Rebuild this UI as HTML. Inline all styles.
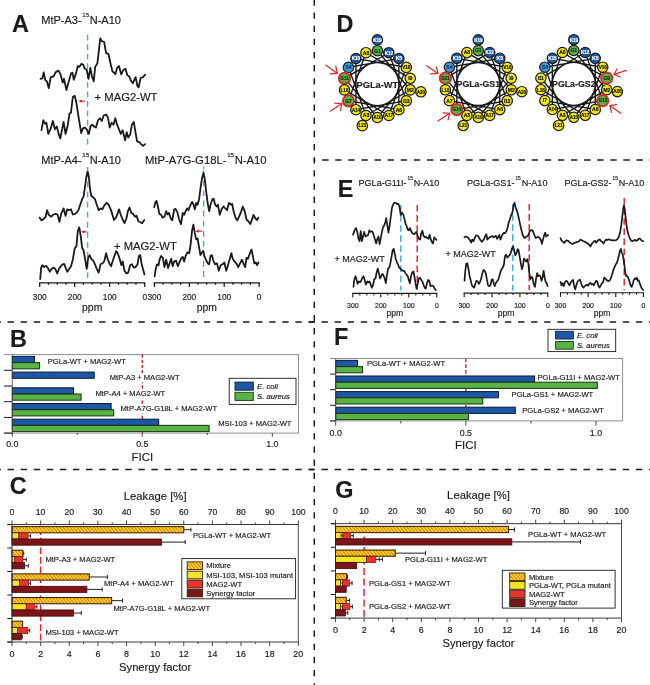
<!DOCTYPE html>
<html><head><meta charset="utf-8"><title>Figure</title>
<style>
html,body{margin:0;padding:0;background:#fff;}
svg{display:block;font-family:'Liberation Sans', Arial, sans-serif;}
</style></head>
<body>
<svg width="650" height="685" viewBox="0 0 650 685">
<rect width="650" height="685" fill="#fff"/>
<g stroke="#1a1a1a" stroke-width="1.5" fill="none">
<line x1="314.3" y1="-0.65" x2="314.3" y2="690" stroke-dasharray="6.3 6.85"/>
<line x1="-5.5" y1="321.9" x2="314.3" y2="321.9" stroke-dasharray="6.4 6.68"/>
<line x1="-5.5" y1="469.4" x2="314.3" y2="469.4" stroke-dasharray="6.4 6.68"/>
<line x1="308.9" y1="321.9" x2="660" y2="321.9" stroke-dasharray="6.4 6.7" stroke-dashoffset="0.5"/>
<line x1="308.9" y1="469.4" x2="660" y2="469.4" stroke-dasharray="6.4 6.7" stroke-dashoffset="0.5"/>
<line x1="313.6" y1="160.1" x2="660" y2="160.1" stroke-dasharray="6.4 6.7" stroke-dashoffset="4.6"/>
</g>
<text x="11.90" y="31.80" font-size="23.4" text-anchor="start" font-weight="bold" font-style="normal" fill="#1a1a1a" stroke="#1a1a1a" stroke-width="0.16" >A</text>
<text x="10.00" y="346.70" font-size="23.4" text-anchor="start" font-weight="bold" font-style="normal" fill="#1a1a1a" stroke="#1a1a1a" stroke-width="0.16" >B</text>
<text x="9.80" y="494.10" font-size="23.4" text-anchor="start" font-weight="bold" font-style="normal" fill="#1a1a1a" stroke="#1a1a1a" stroke-width="0.16" >C</text>
<text x="336.40" y="31.80" font-size="23.4" text-anchor="start" font-weight="bold" font-style="normal" fill="#1a1a1a" stroke="#1a1a1a" stroke-width="0.16" >D</text>
<text x="337.80" y="196.80" font-size="23.4" text-anchor="start" font-weight="bold" font-style="normal" fill="#1a1a1a" stroke="#1a1a1a" stroke-width="0.16" >E</text>
<text x="334.10" y="345.40" font-size="23.4" text-anchor="start" font-weight="bold" font-style="normal" fill="#1a1a1a" stroke="#1a1a1a" stroke-width="0.16" >F</text>
<text x="335.30" y="497.80" font-size="23.4" text-anchor="start" font-weight="bold" font-style="normal" fill="#1a1a1a" stroke="#1a1a1a" stroke-width="0.16" >G</text>
<line x1="87.6" y1="34.8" x2="87.6" y2="146.5" stroke="#4aa5de" stroke-width="1.4" stroke-dasharray="5.8 3.65"/>
<line x1="87.6" y1="171.3" x2="87.6" y2="278" stroke="#4aa5de" stroke-width="1.4" stroke-dasharray="5.9 4.19"/>
<line x1="87.6" y1="167" x2="87.6" y2="170" stroke="#4aa5de" stroke-width="1.4"/>
<line x1="203.6" y1="170.3" x2="203.6" y2="278" stroke="#4aa5de" stroke-width="1.4" stroke-dasharray="5.9 4.18"/>
<line x1="203.6" y1="166.6" x2="203.6" y2="169" stroke="#4aa5de" stroke-width="1.4"/>
<path d="M40.5 78.9 L42.4 78.4 L43.7 72.5 L45.2 79.8 L47.0 81.7 L48.8 88.2 L50.7 77.1 L53.5 76.5 L55.7 72.1 L58.6 70.6 L60.8 75.2 L62.7 82.6 L64.0 78.9 L66.4 90.0 L68.2 83.5 L71.0 73.4 L72.5 72.8 L73.8 79.8 L76.0 73.4 L77.8 66.0 L79.3 66.9 L81.5 63.8 L83.4 65.1 L84.8 68.8 L86.7 69.7 L88.5 78.9 L90.4 67.8 L91.9 76.2 L93.7 81.3 L95.2 66.9 L97.4 63.2 L98.7 52.2 L100.2 38.3 L101.8 41.1 L104.2 42.0 L106.1 53.1 L108.5 54.0 L110.7 64.2 L112.5 71.5 L114.0 72.5 L115.3 74.3 L117.1 67.8 L119.0 66.0 L121.2 74.3 L123.6 69.7 L125.5 68.8 L127.3 75.2 L129.1 76.2 L131.0 80.8 L132.8 83.2 L135.6 77.1 L137.5 86.3 L138.7 87.2 L140.6 78.0 L143.0 77.1 L145.2 74.7" fill="none" stroke="#1a1a1a" stroke-width="1.8" stroke-linejoin="round" stroke-linecap="round"/>
<path d="M41.5 130.2 L43.3 120.1 L45.2 123.8 L46.4 122.8 L48.3 133.9 L50.7 128.4 L52.9 121.0 L54.9 129.3 L56.8 126.5 L58.6 133.9 L60.3 138.5 L62.1 129.3 L63.6 121.9 L65.5 133.9 L67.9 124.7 L69.5 113.6 L71.0 112.7 L72.8 97.0 L74.7 95.7 L76.5 103.5 L78.9 119.2 L81.2 133.0 L83.0 128.4 L84.8 127.5 L86.7 129.3 L88.9 133.9 L90.4 126.5 L92.2 124.7 L94.1 126.5 L95.9 127.5 L98.1 120.1 L100.0 118.2 L101.8 121.0 L103.7 115.5 L106.1 114.5 L107.9 117.3 L109.8 127.5 L111.6 122.8 L113.5 124.7 L115.3 118.2 L117.1 124.7 L119.0 129.3 L120.8 133.9 L122.7 130.2 L125.1 140.4 L126.7 132.1 L128.2 137.6 L130.1 134.8 L131.9 124.7 L133.8 121.9 L135.6 133.0 L137.1 141.3 L139.3 142.2 L141.1 144.1 L143.0 145.9 L145.2 144.1" fill="none" stroke="#1a1a1a" stroke-width="1.8" stroke-linejoin="round" stroke-linecap="round"/>
<path d="M39.6 217.6 L41.5 220.4 L44.2 218.5 L45.7 216.7 L47.0 210.2 L48.8 214.8 L51.2 216.7 L53.5 214.5 L55.7 213.9 L57.5 214.5 L59.4 221.9 L61.2 213.9 L63.6 208.4 L65.5 215.8 L67.3 209.3 L69.2 210.2 L71.0 209.3 L72.8 214.5 L75.2 213.9 L77.1 212.1 L78.4 210.2 L80.2 204.7 L82.1 199.2 L83.6 196.4 L84.8 188.1 L86.3 177.0 L87.6 171.5 L88.9 177.0 L90.0 189.0 L91.3 196.0 L93.2 197.3 L95.0 199.2 L96.8 204.7 L98.7 210.2 L100.5 208.4 L102.4 209.3 L104.2 205.6 L106.6 202.8 L108.5 204.7 L110.7 209.3 L112.2 213.9 L114.0 220.0 L115.9 217.6 L117.5 213.9 L119.0 209.3 L120.8 214.8 L122.7 219.5 L124.5 223.2 L126.4 218.5 L127.9 211.2 L129.5 207.5 L131.4 213.0 L133.2 213.9 L135.1 216.7 L136.5 215.8 L138.4 221.3 L140.2 222.2 L142.1 223.2 L144.3 220.0" fill="none" stroke="#1a1a1a" stroke-width="1.8" stroke-linejoin="round" stroke-linecap="round"/>
<path d="M40.2 279.1 L41.1 268.0 L42.4 265.2 L44.2 267.1 L46.1 265.8 L47.9 268.0 L49.8 271.7 L51.6 268.9 L53.5 267.6 L55.3 268.9 L57.2 273.5 L59.0 268.9 L60.8 266.2 L62.7 264.3 L64.2 263.9 L66.0 268.9 L67.3 271.7 L69.2 268.9 L71.0 266.2 L72.8 259.7 L74.7 248.6 L76.5 245.8 L77.8 231.1 L79.3 227.4 L80.8 236.6 L82.1 247.7 L83.6 250.5 L85.2 259.7 L86.7 268.9 L88.2 257.8 L89.5 255.1 L91.3 258.8 L93.2 260.6 L95.0 264.3 L96.8 268.9 L98.7 272.6 L100.5 264.3 L102.4 263.4 L104.2 261.5 L106.1 253.2 L107.9 259.7 L109.8 264.3 L111.1 266.2 L112.5 261.5 L114.4 256.0 L116.2 251.0 L118.1 254.2 L119.9 259.7 L121.4 265.2 L122.7 261.5 L124.5 270.8 L126.4 273.5 L128.2 272.6 L130.1 265.2 L131.9 264.3 L133.8 267.6 L135.6 267.1 L137.5 264.3 L138.9 256.0 L140.2 255.1 L141.7 264.3 L143.0 268.9 L144.5 274.5" fill="none" stroke="#1a1a1a" stroke-width="1.8" stroke-linejoin="round" stroke-linecap="round"/>
<path d="M154.2 207.1 L155.5 201.9 L156.6 201.0 L157.9 206.5 L159.4 213.9 L161.2 214.8 L162.5 217.6 L164.4 216.7 L166.2 211.2 L167.5 214.5 L169.0 213.0 L170.8 218.5 L172.3 220.4 L174.2 209.3 L175.5 208.9 L177.3 212.1 L179.2 219.5 L181.0 224.1 L182.8 213.0 L184.1 214.8 L185.6 211.2 L187.1 208.4 L188.4 210.2 L190.2 205.6 L192.1 201.9 L193.6 204.7 L194.8 209.3 L196.3 202.8 L197.6 204.7 L199.1 199.2 L200.4 189.0 L201.9 178.8 L203.5 172.8 L205.0 180.7 L206.3 192.7 L207.8 203.8 L209.2 211.2 L210.5 204.7 L212.4 199.2 L213.7 198.8 L215.1 204.7 L216.6 206.5 L217.9 204.7 L219.8 214.8 L221.6 209.3 L223.5 206.5 L225.3 208.4 L227.1 210.2 L229.0 202.8 L230.8 204.7 L232.1 203.8 L233.6 211.2 L235.5 217.6 L237.3 220.4 L239.1 216.7 L241.0 212.1 L242.8 206.5 L244.7 211.2 L246.5 219.5 L248.4 221.3 L250.2 224.1 L251.7 220.4 L253.5 214.8 L255.4 218.5 L257.1 220.0 L258.3 217.6" fill="none" stroke="#1a1a1a" stroke-width="1.8" stroke-linejoin="round" stroke-linecap="round"/>
<path d="M154.6 276.3 L155.7 268.9 L157.0 264.3 L158.5 265.2 L159.8 258.8 L161.2 256.0 L162.9 257.8 L164.4 267.1 L166.2 259.7 L168.1 268.0 L169.6 263.4 L171.2 258.8 L172.7 266.2 L174.2 261.5 L176.0 260.6 L177.9 266.2 L179.7 261.5 L181.6 257.8 L182.8 256.9 L184.1 261.5 L185.6 256.0 L187.5 252.3 L189.3 253.2 L190.8 243.1 L192.1 230.2 L193.4 224.6 L194.8 232.9 L196.1 239.4 L197.6 238.5 L199.1 247.7 L200.4 255.1 L201.9 252.3 L203.2 251.0 L204.4 256.0 L205.9 259.7 L207.8 263.4 L209.2 264.3 L210.5 256.0 L211.8 255.1 L213.3 260.6 L215.1 264.3 L217.0 263.4 L218.8 270.8 L220.7 265.2 L222.5 264.3 L224.4 262.5 L226.2 270.8 L227.7 266.2 L229.5 259.7 L231.4 253.2 L232.7 258.8 L234.5 261.5 L236.4 263.4 L238.2 267.1 L240.1 263.4 L241.9 259.7 L243.8 264.3 L245.2 267.1 L246.5 257.8 L248.0 258.8 L249.9 253.2 L251.5 249.5 L253.0 256.9 L254.3 263.4 L255.8 262.5 L257.1 265.2 L258.5 262.5" fill="none" stroke="#1a1a1a" stroke-width="1.8" stroke-linejoin="round" stroke-linecap="round"/>
<text x="41.30" y="23.90" font-size="11.0" text-anchor="start" font-weight="normal" font-style="normal" fill="#1a1a1a" stroke="#1a1a1a" stroke-width="0.16" >MtP-A3-</text>
<text x="82.24" y="16.70" font-size="6.2" text-anchor="start" font-weight="normal" font-style="normal" fill="#1a1a1a" stroke="#1a1a1a" stroke-width="0.16" >15</text>
<text x="89.74" y="23.90" font-size="11.0" text-anchor="start" font-weight="normal" font-style="normal" fill="#1a1a1a" stroke="#1a1a1a" stroke-width="0.16" >N-A10</text>
<text x="41.30" y="163.80" font-size="11.0" text-anchor="start" font-weight="normal" font-style="normal" fill="#1a1a1a" stroke="#1a1a1a" stroke-width="0.16" >MtP-A4-</text>
<text x="82.24" y="156.60" font-size="6.2" text-anchor="start" font-weight="normal" font-style="normal" fill="#1a1a1a" stroke="#1a1a1a" stroke-width="0.16" >15</text>
<text x="89.74" y="163.80" font-size="11.0" text-anchor="start" font-weight="normal" font-style="normal" fill="#1a1a1a" stroke="#1a1a1a" stroke-width="0.16" >N-A10</text>
<text x="144.90" y="163.80" font-size="11.3" text-anchor="start" font-weight="normal" font-style="normal" fill="#1a1a1a" stroke="#1a1a1a" stroke-width="0.16" >MtP-A7G-G18L-</text>
<text x="227.14" y="156.60" font-size="6.2" text-anchor="start" font-weight="normal" font-style="normal" fill="#1a1a1a" stroke="#1a1a1a" stroke-width="0.16" >15</text>
<text x="234.63" y="163.80" font-size="11.3" text-anchor="start" font-weight="normal" font-style="normal" fill="#1a1a1a" stroke="#1a1a1a" stroke-width="0.16" >N-A10</text>
<text x="94.60" y="101.40" font-size="11.25" text-anchor="start" font-weight="normal" font-style="normal" fill="#1a1a1a" stroke="#1a1a1a" stroke-width="0.16" >+ MAG2-WT</text>
<text x="114.00" y="250.30" font-size="11.25" text-anchor="start" font-weight="normal" font-style="normal" fill="#1a1a1a" stroke="#1a1a1a" stroke-width="0.16" >+ MAG2-WT</text>
<line x1="39.08" y1="282.75" x2="145.32" y2="282.75" stroke="#1a1a1a" stroke-width="1.25" />
<line x1="39.70" y1="282.75" x2="39.70" y2="287.05" stroke="#1a1a1a" stroke-width="1.25" />
<line x1="48.45" y1="282.75" x2="48.45" y2="284.85" stroke="#1a1a1a" stroke-width="1.25" />
<line x1="57.20" y1="282.75" x2="57.20" y2="284.85" stroke="#1a1a1a" stroke-width="1.25" />
<line x1="65.95" y1="282.75" x2="65.95" y2="284.85" stroke="#1a1a1a" stroke-width="1.25" />
<line x1="74.70" y1="282.75" x2="74.70" y2="287.05" stroke="#1a1a1a" stroke-width="1.25" />
<line x1="83.45" y1="282.75" x2="83.45" y2="284.85" stroke="#1a1a1a" stroke-width="1.25" />
<line x1="92.20" y1="282.75" x2="92.20" y2="284.85" stroke="#1a1a1a" stroke-width="1.25" />
<line x1="100.95" y1="282.75" x2="100.95" y2="284.85" stroke="#1a1a1a" stroke-width="1.25" />
<line x1="109.70" y1="282.75" x2="109.70" y2="287.05" stroke="#1a1a1a" stroke-width="1.25" />
<line x1="118.45" y1="282.75" x2="118.45" y2="284.85" stroke="#1a1a1a" stroke-width="1.25" />
<line x1="127.20" y1="282.75" x2="127.20" y2="284.85" stroke="#1a1a1a" stroke-width="1.25" />
<line x1="135.95" y1="282.75" x2="135.95" y2="284.85" stroke="#1a1a1a" stroke-width="1.25" />
<line x1="144.70" y1="282.75" x2="144.70" y2="287.05" stroke="#1a1a1a" stroke-width="1.25" />
<text x="39.70" y="300.00" font-size="8.3" text-anchor="middle" font-weight="normal" font-style="normal" fill="#1a1a1a" stroke="#1a1a1a" stroke-width="0.16" >300</text>
<text x="74.70" y="300.00" font-size="8.3" text-anchor="middle" font-weight="normal" font-style="normal" fill="#1a1a1a" stroke="#1a1a1a" stroke-width="0.16" >200</text>
<text x="109.70" y="300.00" font-size="8.3" text-anchor="middle" font-weight="normal" font-style="normal" fill="#1a1a1a" stroke="#1a1a1a" stroke-width="0.16" >100</text>
<text x="144.70" y="300.00" font-size="8.3" text-anchor="middle" font-weight="normal" font-style="normal" fill="#1a1a1a" stroke="#1a1a1a" stroke-width="0.16" >0</text>
<text x="92.20" y="311.00" font-size="10.4" text-anchor="middle" font-weight="normal" font-style="normal" fill="#1a1a1a" stroke="#1a1a1a" stroke-width="0.16" >ppm</text>
<line x1="153.78" y1="282.75" x2="259.73" y2="282.75" stroke="#1a1a1a" stroke-width="1.25" />
<line x1="154.40" y1="282.75" x2="154.40" y2="287.05" stroke="#1a1a1a" stroke-width="1.25" />
<line x1="163.12" y1="282.75" x2="163.12" y2="284.85" stroke="#1a1a1a" stroke-width="1.25" />
<line x1="171.85" y1="282.75" x2="171.85" y2="284.85" stroke="#1a1a1a" stroke-width="1.25" />
<line x1="180.58" y1="282.75" x2="180.58" y2="284.85" stroke="#1a1a1a" stroke-width="1.25" />
<line x1="189.30" y1="282.75" x2="189.30" y2="287.05" stroke="#1a1a1a" stroke-width="1.25" />
<line x1="198.03" y1="282.75" x2="198.03" y2="284.85" stroke="#1a1a1a" stroke-width="1.25" />
<line x1="206.75" y1="282.75" x2="206.75" y2="284.85" stroke="#1a1a1a" stroke-width="1.25" />
<line x1="215.48" y1="282.75" x2="215.48" y2="284.85" stroke="#1a1a1a" stroke-width="1.25" />
<line x1="224.20" y1="282.75" x2="224.20" y2="287.05" stroke="#1a1a1a" stroke-width="1.25" />
<line x1="232.93" y1="282.75" x2="232.93" y2="284.85" stroke="#1a1a1a" stroke-width="1.25" />
<line x1="241.65" y1="282.75" x2="241.65" y2="284.85" stroke="#1a1a1a" stroke-width="1.25" />
<line x1="250.38" y1="282.75" x2="250.38" y2="284.85" stroke="#1a1a1a" stroke-width="1.25" />
<line x1="259.10" y1="282.75" x2="259.10" y2="287.05" stroke="#1a1a1a" stroke-width="1.25" />
<text x="154.40" y="300.00" font-size="8.3" text-anchor="middle" font-weight="normal" font-style="normal" fill="#1a1a1a" stroke="#1a1a1a" stroke-width="0.16" >300</text>
<text x="189.30" y="300.00" font-size="8.3" text-anchor="middle" font-weight="normal" font-style="normal" fill="#1a1a1a" stroke="#1a1a1a" stroke-width="0.16" >200</text>
<text x="224.20" y="300.00" font-size="8.3" text-anchor="middle" font-weight="normal" font-style="normal" fill="#1a1a1a" stroke="#1a1a1a" stroke-width="0.16" >100</text>
<text x="259.10" y="300.00" font-size="8.3" text-anchor="middle" font-weight="normal" font-style="normal" fill="#1a1a1a" stroke="#1a1a1a" stroke-width="0.16" >0</text>
<text x="206.75" y="311.00" font-size="10.4" text-anchor="middle" font-weight="normal" font-style="normal" fill="#1a1a1a" stroke="#1a1a1a" stroke-width="0.16" >ppm</text>
<line x1="84.9" y1="101.2" x2="80.0" y2="101.2" stroke="#e0262d" stroke-width="1.15"/>
<polygon points="78.5,101.2 81.6,99.60000000000001 82.1,101.2 81.6,102.8" fill="#e0262d"/>
<line x1="86.6" y1="231.8" x2="82.7" y2="231.8" stroke="#e0262d" stroke-width="1.15"/>
<polygon points="81.2,231.8 84.3,230.20000000000002 84.8,231.8 84.3,233.4" fill="#e0262d"/>
<line x1="202.1" y1="231.2" x2="197.0" y2="231.2" stroke="#e0262d" stroke-width="1.15"/>
<polygon points="195.5,231.2 198.6,229.6 199.1,231.2 198.6,232.79999999999998" fill="#e0262d"/>
<line x1="400.8" y1="205" x2="400.8" y2="290.5" stroke="#4aa5de" stroke-width="1.45" stroke-dasharray="6.6 3.5"/>
<line x1="417.2" y1="205" x2="417.2" y2="290" stroke="#e0262d" stroke-width="1.45" stroke-dasharray="6.6 3.5"/>
<line x1="512.7" y1="204" x2="512.7" y2="290.5" stroke="#4aa5de" stroke-width="1.45" stroke-dasharray="6.6 3.5"/>
<line x1="529.2" y1="204" x2="529.2" y2="290" stroke="#e0262d" stroke-width="1.45" stroke-dasharray="6.6 3.5"/>
<line x1="624.2" y1="198" x2="624.2" y2="290" stroke="#e0262d" stroke-width="1.45" stroke-dasharray="6.6 3.5"/>
<path d="M353.0 234.7 L354.5 230.4 L356.1 228.1 L357.3 231.9 L358.5 238.8 L359.6 241.2 L360.7 231.2 L361.9 241.2 L363.2 235.8 L364.2 231.9 L365.5 236.5 L366.8 235.8 L368.1 235.0 L369.3 230.4 L370.4 231.9 L371.5 231.2 L372.7 231.9 L373.9 235.8 L375.0 239.6 L376.2 243.5 L377.3 238.8 L378.4 236.5 L379.6 244.2 L380.8 238.1 L381.9 231.9 L383.2 226.5 L384.2 225.8 L385.3 221.9 L386.2 218.1 L387.3 225.0 L388.4 232.7 L389.6 225.8 L390.8 216.5 L391.9 208.1 L393.2 204.2 L394.5 202.7 L396.1 203.0 L397.3 204.2 L398.5 203.9 L399.6 207.3 L400.7 215.0 L401.9 212.7 L403.2 214.2 L404.2 218.1 L405.5 223.5 L406.5 225.8 L407.8 229.6 L408.8 230.4 L409.9 228.1 L411.2 231.2 L412.7 233.5 L414.2 234.2 L415.5 232.7 L416.5 231.9 L417.6 235.8 L418.8 238.8 L420.1 239.6 L421.2 233.5 L422.4 230.7 L423.5 235.8 L424.7 237.3 L425.8 236.8 L427.3 238.1 L428.5 238.8 L429.6 234.7 L430.8 239.6 L431.9 241.9 L433.0 243.5 L434.2 237.3 L435.5 238.8 L436.5 239.9" fill="none" stroke="#1a1a1a" stroke-width="1.7" stroke-linejoin="round" stroke-linecap="round"/>
<path d="M353.5 286.9 L354.2 280.0 L355.5 276.2 L356.5 279.2 L357.6 283.8 L358.8 281.5 L360.1 282.3 L361.2 280.8 L362.4 277.7 L363.5 276.2 L364.7 280.0 L365.9 284.6 L367.3 281.5 L368.5 282.3 L369.6 281.5 L370.8 284.6 L371.9 287.7 L373.2 284.6 L374.2 279.2 L375.5 278.5 L376.5 273.1 L377.8 268.5 L378.8 273.1 L380.1 278.5 L381.2 276.2 L382.4 273.8 L383.5 275.4 L384.7 278.5 L385.8 283.1 L386.8 276.2 L388.1 268.5 L389.3 267.7 L390.4 263.1 L391.5 256.9 L392.7 250.0 L393.8 248.9 L394.8 253.8 L395.8 259.2 L397.0 262.3 L398.1 264.6 L399.2 267.7 L400.4 268.5 L401.6 270.0 L402.8 270.8 L404.2 270.8 L405.5 273.1 L406.5 274.6 L407.8 276.2 L408.8 280.0 L409.9 283.1 L411.2 275.4 L412.4 272.3 L413.5 271.5 L414.5 276.9 L415.5 283.1 L416.5 288.5 L417.6 284.6 L418.8 278.5 L420.1 277.7 L421.2 280.0 L422.4 281.5 L423.5 284.6 L424.7 287.7 L425.8 288.5 L427.0 283.1 L428.1 280.0 L429.3 280.8 L430.4 286.2 L431.9 285.4 L433.5 286.2 L434.5 288.5 L435.8 290.0" fill="none" stroke="#1a1a1a" stroke-width="1.7" stroke-linejoin="round" stroke-linecap="round"/>
<path d="M464.5 237.3 L466.1 236.5 L467.6 237.3 L468.8 238.8 L470.1 240.4 L471.2 242.7 L472.2 239.6 L473.5 241.2 L474.7 238.1 L475.8 235.8 L477.0 235.3 L478.4 236.5 L479.6 238.8 L480.8 240.4 L481.9 241.9 L483.0 240.4 L484.2 238.8 L485.3 235.8 L486.4 234.2 L487.3 239.6 L488.5 238.1 L489.8 237.3 L491.2 236.5 L492.4 236.2 L493.5 237.3 L494.7 236.5 L495.9 235.8 L497.0 238.8 L498.1 237.3 L499.3 235.0 L500.4 239.6 L501.6 236.5 L502.7 234.2 L503.9 232.7 L505.0 233.2 L506.2 231.6 L507.3 228.8 L508.5 223.5 L509.8 219.6 L511.2 215.0 L512.4 212.7 L513.5 205.8 L514.5 202.7 L515.6 207.3 L516.8 210.4 L518.1 215.0 L519.3 220.4 L520.4 225.8 L521.5 230.4 L522.7 235.0 L523.9 237.3 L525.0 238.1 L526.2 236.5 L527.6 236.2 L528.8 234.2 L529.9 230.7 L531.2 230.4 L532.4 230.1 L533.5 232.7 L534.7 235.8 L535.8 238.1 L537.0 237.3 L538.4 236.8 L539.6 238.1 L540.8 239.6 L541.9 243.9 L543.0 239.6 L544.2 235.0 L545.2 232.7 L546.1 236.5 L547.0 235.8 L548.1 235.0" fill="none" stroke="#1a1a1a" stroke-width="1.7" stroke-linejoin="round" stroke-linecap="round"/>
<path d="M464.5 280.8 L465.3 270.8 L466.2 263.8 L467.3 263.1 L468.4 268.5 L469.6 276.2 L470.8 280.8 L471.9 285.4 L473.2 286.9 L474.2 287.7 L475.3 283.8 L476.5 280.8 L477.8 281.5 L478.8 283.8 L479.9 282.3 L481.2 278.5 L482.4 273.1 L483.5 270.0 L484.5 270.8 L485.8 273.1 L486.8 279.2 L488.1 285.4 L489.3 286.2 L490.4 285.4 L491.6 280.0 L492.7 279.2 L493.8 283.8 L494.7 286.2 L495.8 283.1 L496.8 281.5 L498.1 280.0 L499.3 276.2 L500.4 272.3 L501.5 269.2 L502.7 267.7 L503.9 264.6 L505.0 256.2 L506.1 254.6 L507.3 257.7 L508.5 256.2 L509.6 255.4 L510.7 253.1 L511.9 248.5 L513.2 246.5 L514.2 250.8 L515.3 255.4 L516.5 253.1 L517.6 249.2 L518.5 250.0 L519.6 256.2 L520.8 263.1 L521.9 269.2 L523.0 265.4 L523.9 258.5 L525.0 260.0 L526.1 261.5 L527.3 259.2 L528.4 263.8 L529.3 273.1 L530.4 279.2 L531.5 276.9 L532.5 277.7 L533.8 284.6 L535.0 286.9 L536.1 278.5 L537.2 273.1 L538.1 276.2 L539.3 275.4 L540.4 276.2 L541.5 280.8 L542.7 276.9 L543.6 270.8 L544.7 277.7 L545.8 282.3 L546.7 283.1 L547.6 286.2" fill="none" stroke="#1a1a1a" stroke-width="1.7" stroke-linejoin="round" stroke-linecap="round"/>
<path d="M560.5 238.1 L561.5 240.4 L563.1 241.9 L564.2 243.0 L565.4 241.2 L566.6 240.4 L568.2 240.8 L569.7 242.4 L571.2 243.5 L572.8 243.9 L574.3 243.0 L575.8 242.4 L577.4 241.9 L578.9 241.2 L580.5 239.6 L582.0 240.4 L583.5 241.2 L585.1 241.9 L586.6 242.7 L588.2 243.9 L589.4 245.0 L590.5 246.5 L591.5 244.2 L592.8 242.7 L594.0 241.2 L595.1 240.8 L596.2 242.7 L597.4 241.2 L598.6 239.9 L599.8 239.6 L601.1 241.2 L602.3 241.9 L603.5 243.5 L604.8 241.2 L606.0 239.6 L607.2 240.1 L608.5 239.3 L610.0 239.9 L611.5 240.1 L613.1 240.4 L614.6 240.4 L616.2 240.1 L617.7 238.8 L618.9 236.5 L620.2 231.9 L621.2 225.8 L622.3 216.5 L623.2 208.8 L624.0 205.0 L624.8 209.6 L625.7 218.1 L626.6 225.8 L627.7 231.9 L628.8 235.8 L630.0 238.8 L631.2 240.8 L632.5 241.2 L633.8 240.4 L635.1 239.9 L636.2 240.8 L637.4 240.4 L638.5 238.8 L639.7 238.5 L640.8 239.6 L642.0 240.8 L643.4 241.2" fill="none" stroke="#1a1a1a" stroke-width="1.7" stroke-linejoin="round" stroke-linecap="round"/>
<path d="M560.5 281.8 L561.5 285.4 L562.6 283.1 L563.8 286.2 L564.9 282.3 L566.2 280.8 L567.2 281.5 L568.5 283.8 L569.5 285.4 L570.8 282.3 L572.0 280.8 L573.1 280.0 L574.2 286.2 L575.2 289.5 L576.5 284.6 L577.7 281.5 L578.8 280.3 L580.0 279.7 L581.1 283.1 L582.3 286.2 L583.4 287.7 L584.6 286.2 L585.7 285.4 L586.9 284.6 L588.0 285.8 L589.2 283.8 L590.3 282.8 L591.5 284.6 L592.8 283.8 L593.8 285.4 L594.9 283.1 L596.2 280.8 L597.2 281.5 L598.3 285.4 L599.5 287.7 L600.8 285.4 L602.0 283.1 L603.1 282.3 L604.2 277.7 L605.4 278.5 L606.5 280.0 L607.7 280.8 L608.8 281.2 L610.0 280.0 L611.1 277.7 L612.3 273.8 L613.4 270.0 L614.6 266.9 L615.7 264.6 L616.8 263.1 L617.8 260.0 L618.9 255.4 L620.0 250.8 L620.9 248.9 L621.8 253.1 L622.8 254.6 L623.5 259.2 L624.5 266.2 L625.4 273.1 L626.3 276.2 L627.4 276.2 L628.5 278.5 L629.5 281.5 L630.6 285.4 L631.7 286.9 L632.8 283.8 L633.8 280.0 L634.9 278.5 L635.8 279.2 L636.8 277.7 L637.7 280.8 L638.8 280.3 L639.7 283.1 L640.8 286.2 L641.8 288.5 L643.1 290.0" fill="none" stroke="#1a1a1a" stroke-width="1.7" stroke-linejoin="round" stroke-linecap="round"/>
<text x="358.60" y="185.90" font-size="9.03" text-anchor="start" font-weight="normal" font-style="normal" fill="#1a1a1a" stroke="#1a1a1a" stroke-width="0.16" >PGLa-G11I-</text>
<text x="407.51" y="179.60" font-size="4.8" text-anchor="start" font-weight="normal" font-style="normal" fill="#1a1a1a" stroke="#1a1a1a" stroke-width="0.16" >15</text>
<text x="413.75" y="185.90" font-size="9.03" text-anchor="start" font-weight="normal" font-style="normal" fill="#1a1a1a" stroke="#1a1a1a" stroke-width="0.16" >N-A10</text>
<text x="467.00" y="185.90" font-size="9.1" text-anchor="start" font-weight="normal" font-style="normal" fill="#1a1a1a" stroke="#1a1a1a" stroke-width="0.16" >PGLa-GS1-</text>
<text x="515.44" y="179.60" font-size="4.8" text-anchor="start" font-weight="normal" font-style="normal" fill="#1a1a1a" stroke="#1a1a1a" stroke-width="0.16" >15</text>
<text x="521.68" y="185.90" font-size="9.1" text-anchor="start" font-weight="normal" font-style="normal" fill="#1a1a1a" stroke="#1a1a1a" stroke-width="0.16" >N-A10</text>
<text x="564.50" y="185.90" font-size="9.03" text-anchor="start" font-weight="normal" font-style="normal" fill="#1a1a1a" stroke="#1a1a1a" stroke-width="0.16" >PGLa-GS2-</text>
<text x="612.58" y="179.60" font-size="4.8" text-anchor="start" font-weight="normal" font-style="normal" fill="#1a1a1a" stroke="#1a1a1a" stroke-width="0.16" >15</text>
<text x="618.81" y="185.90" font-size="9.03" text-anchor="start" font-weight="normal" font-style="normal" fill="#1a1a1a" stroke="#1a1a1a" stroke-width="0.16" >N-A10</text>
<text x="334.50" y="261.50" font-size="9.0" text-anchor="start" font-weight="normal" font-style="normal" fill="#1a1a1a" stroke="#1a1a1a" stroke-width="0.16" >+ MAG2-WT</text>
<text x="445.50" y="257.00" font-size="9.0" text-anchor="start" font-weight="normal" font-style="normal" fill="#1a1a1a" stroke="#1a1a1a" stroke-width="0.16" >+ MAG2-WT</text>
<line x1="352.25" y1="293.40" x2="437.35" y2="293.40" stroke="#1a1a1a" stroke-width="1.1" />
<line x1="352.80" y1="293.40" x2="352.80" y2="297.60" stroke="#1a1a1a" stroke-width="1.1" />
<line x1="359.80" y1="293.40" x2="359.80" y2="295.40" stroke="#1a1a1a" stroke-width="1.1" />
<line x1="366.80" y1="293.40" x2="366.80" y2="295.40" stroke="#1a1a1a" stroke-width="1.1" />
<line x1="373.80" y1="293.40" x2="373.80" y2="295.40" stroke="#1a1a1a" stroke-width="1.1" />
<line x1="380.80" y1="293.40" x2="380.80" y2="297.60" stroke="#1a1a1a" stroke-width="1.1" />
<line x1="387.80" y1="293.40" x2="387.80" y2="295.40" stroke="#1a1a1a" stroke-width="1.1" />
<line x1="394.80" y1="293.40" x2="394.80" y2="295.40" stroke="#1a1a1a" stroke-width="1.1" />
<line x1="401.80" y1="293.40" x2="401.80" y2="295.40" stroke="#1a1a1a" stroke-width="1.1" />
<line x1="408.80" y1="293.40" x2="408.80" y2="297.60" stroke="#1a1a1a" stroke-width="1.1" />
<line x1="415.80" y1="293.40" x2="415.80" y2="295.40" stroke="#1a1a1a" stroke-width="1.1" />
<line x1="422.80" y1="293.40" x2="422.80" y2="295.40" stroke="#1a1a1a" stroke-width="1.1" />
<line x1="429.80" y1="293.40" x2="429.80" y2="295.40" stroke="#1a1a1a" stroke-width="1.1" />
<line x1="436.80" y1="293.40" x2="436.80" y2="297.60" stroke="#1a1a1a" stroke-width="1.1" />
<text x="352.80" y="307.70" font-size="6.9" text-anchor="middle" font-weight="normal" font-style="normal" fill="#1a1a1a" stroke="#1a1a1a" stroke-width="0.16" >300</text>
<text x="380.80" y="307.70" font-size="6.9" text-anchor="middle" font-weight="normal" font-style="normal" fill="#1a1a1a" stroke="#1a1a1a" stroke-width="0.16" >200</text>
<text x="408.80" y="307.70" font-size="6.9" text-anchor="middle" font-weight="normal" font-style="normal" fill="#1a1a1a" stroke="#1a1a1a" stroke-width="0.16" >100</text>
<text x="436.80" y="307.70" font-size="6.9" text-anchor="middle" font-weight="normal" font-style="normal" fill="#1a1a1a" stroke="#1a1a1a" stroke-width="0.16" >0</text>
<text x="394.80" y="315.80" font-size="8.5" text-anchor="middle" font-weight="normal" font-style="normal" fill="#1a1a1a" stroke="#1a1a1a" stroke-width="0.16" >ppm</text>
<line x1="463.65" y1="293.10" x2="548.35" y2="293.10" stroke="#1a1a1a" stroke-width="1.1" />
<line x1="464.20" y1="293.10" x2="464.20" y2="297.30" stroke="#1a1a1a" stroke-width="1.1" />
<line x1="471.17" y1="293.10" x2="471.17" y2="295.10" stroke="#1a1a1a" stroke-width="1.1" />
<line x1="478.13" y1="293.10" x2="478.13" y2="295.10" stroke="#1a1a1a" stroke-width="1.1" />
<line x1="485.10" y1="293.10" x2="485.10" y2="295.10" stroke="#1a1a1a" stroke-width="1.1" />
<line x1="492.07" y1="293.10" x2="492.07" y2="297.30" stroke="#1a1a1a" stroke-width="1.1" />
<line x1="499.03" y1="293.10" x2="499.03" y2="295.10" stroke="#1a1a1a" stroke-width="1.1" />
<line x1="506.00" y1="293.10" x2="506.00" y2="295.10" stroke="#1a1a1a" stroke-width="1.1" />
<line x1="512.97" y1="293.10" x2="512.97" y2="295.10" stroke="#1a1a1a" stroke-width="1.1" />
<line x1="519.93" y1="293.10" x2="519.93" y2="297.30" stroke="#1a1a1a" stroke-width="1.1" />
<line x1="526.90" y1="293.10" x2="526.90" y2="295.10" stroke="#1a1a1a" stroke-width="1.1" />
<line x1="533.87" y1="293.10" x2="533.87" y2="295.10" stroke="#1a1a1a" stroke-width="1.1" />
<line x1="540.83" y1="293.10" x2="540.83" y2="295.10" stroke="#1a1a1a" stroke-width="1.1" />
<line x1="547.80" y1="293.10" x2="547.80" y2="297.30" stroke="#1a1a1a" stroke-width="1.1" />
<text x="464.20" y="307.70" font-size="6.9" text-anchor="middle" font-weight="normal" font-style="normal" fill="#1a1a1a" stroke="#1a1a1a" stroke-width="0.16" >300</text>
<text x="492.07" y="307.70" font-size="6.9" text-anchor="middle" font-weight="normal" font-style="normal" fill="#1a1a1a" stroke="#1a1a1a" stroke-width="0.16" >200</text>
<text x="519.93" y="307.70" font-size="6.9" text-anchor="middle" font-weight="normal" font-style="normal" fill="#1a1a1a" stroke="#1a1a1a" stroke-width="0.16" >100</text>
<text x="547.80" y="307.70" font-size="6.9" text-anchor="middle" font-weight="normal" font-style="normal" fill="#1a1a1a" stroke="#1a1a1a" stroke-width="0.16" >0</text>
<text x="506.00" y="315.80" font-size="8.5" text-anchor="middle" font-weight="normal" font-style="normal" fill="#1a1a1a" stroke="#1a1a1a" stroke-width="0.16" >ppm</text>
<line x1="559.95" y1="292.70" x2="643.95" y2="292.70" stroke="#1a1a1a" stroke-width="1.1" />
<line x1="560.50" y1="292.70" x2="560.50" y2="296.90" stroke="#1a1a1a" stroke-width="1.1" />
<line x1="567.41" y1="292.70" x2="567.41" y2="294.70" stroke="#1a1a1a" stroke-width="1.1" />
<line x1="574.32" y1="292.70" x2="574.32" y2="294.70" stroke="#1a1a1a" stroke-width="1.1" />
<line x1="581.23" y1="292.70" x2="581.23" y2="294.70" stroke="#1a1a1a" stroke-width="1.1" />
<line x1="588.13" y1="292.70" x2="588.13" y2="296.90" stroke="#1a1a1a" stroke-width="1.1" />
<line x1="595.04" y1="292.70" x2="595.04" y2="294.70" stroke="#1a1a1a" stroke-width="1.1" />
<line x1="601.95" y1="292.70" x2="601.95" y2="294.70" stroke="#1a1a1a" stroke-width="1.1" />
<line x1="608.86" y1="292.70" x2="608.86" y2="294.70" stroke="#1a1a1a" stroke-width="1.1" />
<line x1="615.77" y1="292.70" x2="615.77" y2="296.90" stroke="#1a1a1a" stroke-width="1.1" />
<line x1="622.67" y1="292.70" x2="622.67" y2="294.70" stroke="#1a1a1a" stroke-width="1.1" />
<line x1="629.58" y1="292.70" x2="629.58" y2="294.70" stroke="#1a1a1a" stroke-width="1.1" />
<line x1="636.49" y1="292.70" x2="636.49" y2="294.70" stroke="#1a1a1a" stroke-width="1.1" />
<line x1="643.40" y1="292.70" x2="643.40" y2="296.90" stroke="#1a1a1a" stroke-width="1.1" />
<text x="560.50" y="307.70" font-size="6.9" text-anchor="middle" font-weight="normal" font-style="normal" fill="#1a1a1a" stroke="#1a1a1a" stroke-width="0.16" >300</text>
<text x="588.13" y="307.70" font-size="6.9" text-anchor="middle" font-weight="normal" font-style="normal" fill="#1a1a1a" stroke="#1a1a1a" stroke-width="0.16" >200</text>
<text x="615.77" y="307.70" font-size="6.9" text-anchor="middle" font-weight="normal" font-style="normal" fill="#1a1a1a" stroke="#1a1a1a" stroke-width="0.16" >100</text>
<text x="643.40" y="307.70" font-size="6.9" text-anchor="middle" font-weight="normal" font-style="normal" fill="#1a1a1a" stroke="#1a1a1a" stroke-width="0.16" >0</text>
<text x="601.95" y="315.80" font-size="8.5" text-anchor="middle" font-weight="normal" font-style="normal" fill="#1a1a1a" stroke="#1a1a1a" stroke-width="0.16" >ppm</text>
<path d="M377.40 50.70 L410.29 89.90 L365.98 115.49 L348.47 67.40 L398.87 58.51 L398.87 109.69 L348.47 100.80 L365.98 52.71 L410.29 78.30 L377.40 117.50 L344.51 78.30 L388.82 52.71 L406.33 100.80 L355.93 109.69 L355.93 58.51 L406.33 67.40 L388.82 115.49 L344.51 89.90" fill="none" stroke="#1a1a1a" stroke-width="1.4"/>
<circle cx="377.4" cy="84.1" r="21.5" fill="#fff" stroke="#1a1a1a" stroke-width="1.4"/>
<circle cx="377.40" cy="50.70" r="5.2" fill="#58b244" stroke="#1a1a1a" stroke-width="1.2"/>
<text x="377.40" y="52.55" font-size="5.1" text-anchor="middle" font-weight="bold" font-style="normal" fill="#15300f" stroke="#15300f" stroke-width="0.16" letter-spacing="-0.1">G1</text>
<circle cx="410.29" cy="89.90" r="5.2" fill="#f3e616" stroke="#1a1a1a" stroke-width="1.2"/>
<text x="410.29" y="91.75" font-size="5.1" text-anchor="middle" font-weight="bold" font-style="normal" fill="#111" stroke="#111" stroke-width="0.16" letter-spacing="-0.1">M2</text>
<circle cx="365.98" cy="115.49" r="5.2" fill="#f3e616" stroke="#1a1a1a" stroke-width="1.2"/>
<text x="365.98" y="117.34" font-size="5.1" text-anchor="middle" font-weight="bold" font-style="normal" fill="#111" stroke="#111" stroke-width="0.16" letter-spacing="-0.1">A3</text>
<circle cx="348.47" cy="67.40" r="5.2" fill="#3b9ad9" stroke="#1a1a1a" stroke-width="1.2"/>
<text x="348.47" y="69.25" font-size="5.1" text-anchor="middle" font-weight="bold" font-style="normal" fill="#12305a" stroke="#12305a" stroke-width="0.16" letter-spacing="-0.1">S4</text>
<circle cx="398.87" cy="58.51" r="5.2" fill="#1f57a7" stroke="#1a1a1a" stroke-width="1.2"/>
<text x="398.87" y="60.36" font-size="5.1" text-anchor="middle" font-weight="bold" font-style="normal" fill="#fff" stroke="#fff" stroke-width="0.16" letter-spacing="-0.1">K5</text>
<circle cx="398.87" cy="109.69" r="5.2" fill="#f3e616" stroke="#1a1a1a" stroke-width="1.2"/>
<text x="398.87" y="111.54" font-size="5.1" text-anchor="middle" font-weight="bold" font-style="normal" fill="#111" stroke="#111" stroke-width="0.16" letter-spacing="-0.1">A6</text>
<circle cx="348.47" cy="100.80" r="5.65" fill="#58b244" stroke="#e0262d" stroke-width="1.9"/>
<text x="348.47" y="102.65" font-size="5.1" text-anchor="middle" font-weight="bold" font-style="normal" fill="#15300f" stroke="#15300f" stroke-width="0.16" letter-spacing="-0.1">G7</text>
<circle cx="365.98" cy="52.71" r="5.2" fill="#f3e616" stroke="#1a1a1a" stroke-width="1.2"/>
<text x="365.98" y="54.56" font-size="5.1" text-anchor="middle" font-weight="bold" font-style="normal" fill="#111" stroke="#111" stroke-width="0.16" letter-spacing="-0.1">A8</text>
<circle cx="410.29" cy="78.30" r="5.2" fill="#f3e616" stroke="#1a1a1a" stroke-width="1.2"/>
<text x="410.29" y="80.15" font-size="5.1" text-anchor="middle" font-weight="bold" font-style="normal" fill="#111" stroke="#111" stroke-width="0.16" letter-spacing="-0.1">I9</text>
<circle cx="377.40" cy="117.50" r="5.2" fill="#f3e616" stroke="#1a1a1a" stroke-width="1.2"/>
<text x="377.40" y="119.35" font-size="4.7" text-anchor="middle" font-weight="bold" font-style="normal" fill="#111" stroke="#111" stroke-width="0.16" letter-spacing="-0.1">A10</text>
<circle cx="344.51" cy="78.30" r="5.65" fill="#58b244" stroke="#e0262d" stroke-width="1.9"/>
<text x="344.51" y="80.15" font-size="4.7" text-anchor="middle" font-weight="bold" font-style="normal" fill="#15300f" stroke="#15300f" stroke-width="0.16" letter-spacing="-0.1">G11</text>
<circle cx="388.82" cy="52.71" r="5.2" fill="#1f57a7" stroke="#1a1a1a" stroke-width="1.2"/>
<text x="388.82" y="54.56" font-size="4.7" text-anchor="middle" font-weight="bold" font-style="normal" fill="#fff" stroke="#fff" stroke-width="0.16" letter-spacing="-0.1">K12</text>
<circle cx="406.33" cy="100.80" r="5.2" fill="#f3e616" stroke="#1a1a1a" stroke-width="1.2"/>
<text x="406.33" y="102.65" font-size="4.7" text-anchor="middle" font-weight="bold" font-style="normal" fill="#111" stroke="#111" stroke-width="0.16" letter-spacing="-0.1">I13</text>
<circle cx="355.93" cy="109.69" r="5.2" fill="#f3e616" stroke="#1a1a1a" stroke-width="1.2"/>
<text x="355.93" y="111.54" font-size="4.7" text-anchor="middle" font-weight="bold" font-style="normal" fill="#111" stroke="#111" stroke-width="0.16" letter-spacing="-0.1">A14</text>
<circle cx="355.93" cy="58.51" r="5.2" fill="#1f57a7" stroke="#1a1a1a" stroke-width="1.2"/>
<text x="355.93" y="60.36" font-size="4.7" text-anchor="middle" font-weight="bold" font-style="normal" fill="#fff" stroke="#fff" stroke-width="0.16" letter-spacing="-0.1">K15</text>
<circle cx="406.33" cy="67.40" r="5.2" fill="#f3e616" stroke="#1a1a1a" stroke-width="1.2"/>
<text x="406.33" y="69.25" font-size="4.7" text-anchor="middle" font-weight="bold" font-style="normal" fill="#111" stroke="#111" stroke-width="0.16" letter-spacing="-0.1">V16</text>
<circle cx="388.82" cy="115.49" r="5.2" fill="#f3e616" stroke="#1a1a1a" stroke-width="1.2"/>
<text x="388.82" y="117.34" font-size="4.7" text-anchor="middle" font-weight="bold" font-style="normal" fill="#111" stroke="#111" stroke-width="0.16" letter-spacing="-0.1">A17</text>
<circle cx="344.51" cy="89.90" r="5.2" fill="#f3e616" stroke="#1a1a1a" stroke-width="1.2"/>
<text x="344.51" y="91.75" font-size="4.7" text-anchor="middle" font-weight="bold" font-style="normal" fill="#111" stroke="#111" stroke-width="0.16" letter-spacing="-0.1">L18</text>
<circle cx="377.40" cy="39.90" r="5.2" fill="#1f57a7" stroke="#1a1a1a" stroke-width="1.2"/>
<text x="377.40" y="41.75" font-size="4.7" text-anchor="middle" font-weight="bold" font-style="normal" fill="#fff" stroke="#fff" stroke-width="0.16" letter-spacing="-0.1">K19</text>
<circle cx="420.93" cy="91.78" r="5.2" fill="#f3e616" stroke="#1a1a1a" stroke-width="1.2"/>
<text x="420.93" y="93.63" font-size="4.7" text-anchor="middle" font-weight="bold" font-style="normal" fill="#111" stroke="#111" stroke-width="0.16" letter-spacing="-0.1">A20</text>
<circle cx="362.28" cy="125.63" r="5.2" fill="#f3e616" stroke="#1a1a1a" stroke-width="1.2"/>
<text x="362.28" y="127.48" font-size="4.7" text-anchor="middle" font-weight="bold" font-style="normal" fill="#111" stroke="#111" stroke-width="0.16" letter-spacing="-0.1">L21</text>
<text x="377.40" y="87.50" font-size="9.3" text-anchor="middle" font-weight="bold" font-style="normal" fill="#222" stroke="#222" stroke-width="0.16" >PGLa-WT</text>
<path d="M478.30 50.60 L511.19 89.80 L466.88 115.39 L449.37 67.30 L499.77 58.41 L499.77 109.59 L449.37 100.70 L466.88 52.61 L511.19 78.20 L478.30 117.40 L445.41 78.20 L489.72 52.61 L507.23 100.70 L456.83 109.59 L456.83 58.41 L507.23 67.30 L489.72 115.39 L445.41 89.80" fill="none" stroke="#1a1a1a" stroke-width="1.4"/>
<circle cx="478.3" cy="84.0" r="21.5" fill="#fff" stroke="#1a1a1a" stroke-width="1.4"/>
<circle cx="478.30" cy="50.60" r="5.2" fill="#58b244" stroke="#1a1a1a" stroke-width="1.2"/>
<text x="478.30" y="52.45" font-size="5.1" text-anchor="middle" font-weight="bold" font-style="normal" fill="#15300f" stroke="#15300f" stroke-width="0.16" letter-spacing="-0.1">G1</text>
<circle cx="511.19" cy="89.80" r="5.2" fill="#f3e616" stroke="#1a1a1a" stroke-width="1.2"/>
<text x="511.19" y="91.65" font-size="5.1" text-anchor="middle" font-weight="bold" font-style="normal" fill="#111" stroke="#111" stroke-width="0.16" letter-spacing="-0.1">M2</text>
<circle cx="466.88" cy="115.39" r="5.2" fill="#f3e616" stroke="#1a1a1a" stroke-width="1.2"/>
<text x="466.88" y="117.24" font-size="5.1" text-anchor="middle" font-weight="bold" font-style="normal" fill="#111" stroke="#111" stroke-width="0.16" letter-spacing="-0.1">A3</text>
<circle cx="449.37" cy="67.30" r="5.2" fill="#3b9ad9" stroke="#1a1a1a" stroke-width="1.2"/>
<text x="449.37" y="69.15" font-size="5.1" text-anchor="middle" font-weight="bold" font-style="normal" fill="#12305a" stroke="#12305a" stroke-width="0.16" letter-spacing="-0.1">S4</text>
<circle cx="499.77" cy="58.41" r="5.2" fill="#1f57a7" stroke="#1a1a1a" stroke-width="1.2"/>
<text x="499.77" y="60.26" font-size="5.1" text-anchor="middle" font-weight="bold" font-style="normal" fill="#fff" stroke="#fff" stroke-width="0.16" letter-spacing="-0.1">K5</text>
<circle cx="499.77" cy="109.59" r="5.2" fill="#f3e616" stroke="#1a1a1a" stroke-width="1.2"/>
<text x="499.77" y="111.44" font-size="5.1" text-anchor="middle" font-weight="bold" font-style="normal" fill="#111" stroke="#111" stroke-width="0.16" letter-spacing="-0.1">A6</text>
<circle cx="449.37" cy="100.70" r="5.2" fill="#f3e616" stroke="#1a1a1a" stroke-width="1.2"/>
<text x="449.37" y="102.55" font-size="5.1" text-anchor="middle" font-weight="bold" font-style="normal" fill="#111" stroke="#111" stroke-width="0.16" letter-spacing="-0.1">A7</text>
<circle cx="466.88" cy="52.61" r="5.2" fill="#f3e616" stroke="#1a1a1a" stroke-width="1.2"/>
<text x="466.88" y="54.46" font-size="5.1" text-anchor="middle" font-weight="bold" font-style="normal" fill="#111" stroke="#111" stroke-width="0.16" letter-spacing="-0.1">A8</text>
<circle cx="511.19" cy="78.20" r="5.2" fill="#f3e616" stroke="#1a1a1a" stroke-width="1.2"/>
<text x="511.19" y="80.05" font-size="5.1" text-anchor="middle" font-weight="bold" font-style="normal" fill="#111" stroke="#111" stroke-width="0.16" letter-spacing="-0.1">I9</text>
<circle cx="478.30" cy="117.40" r="5.2" fill="#f3e616" stroke="#1a1a1a" stroke-width="1.2"/>
<text x="478.30" y="119.25" font-size="4.7" text-anchor="middle" font-weight="bold" font-style="normal" fill="#111" stroke="#111" stroke-width="0.16" letter-spacing="-0.1">A10</text>
<circle cx="445.41" cy="78.20" r="5.65" fill="#58b244" stroke="#e0262d" stroke-width="1.9"/>
<text x="445.41" y="80.05" font-size="4.7" text-anchor="middle" font-weight="bold" font-style="normal" fill="#15300f" stroke="#15300f" stroke-width="0.16" letter-spacing="-0.1">G11</text>
<circle cx="489.72" cy="52.61" r="5.2" fill="#1f57a7" stroke="#1a1a1a" stroke-width="1.2"/>
<text x="489.72" y="54.46" font-size="4.7" text-anchor="middle" font-weight="bold" font-style="normal" fill="#fff" stroke="#fff" stroke-width="0.16" letter-spacing="-0.1">K12</text>
<circle cx="507.23" cy="100.70" r="5.2" fill="#f3e616" stroke="#1a1a1a" stroke-width="1.2"/>
<text x="507.23" y="102.55" font-size="4.7" text-anchor="middle" font-weight="bold" font-style="normal" fill="#111" stroke="#111" stroke-width="0.16" letter-spacing="-0.1">I13</text>
<circle cx="456.83" cy="109.59" r="5.65" fill="#58b244" stroke="#e0262d" stroke-width="1.9"/>
<text x="456.83" y="111.44" font-size="4.7" text-anchor="middle" font-weight="bold" font-style="normal" fill="#15300f" stroke="#15300f" stroke-width="0.16" letter-spacing="-0.1">G14</text>
<circle cx="456.83" cy="58.41" r="5.2" fill="#1f57a7" stroke="#1a1a1a" stroke-width="1.2"/>
<text x="456.83" y="60.26" font-size="4.7" text-anchor="middle" font-weight="bold" font-style="normal" fill="#fff" stroke="#fff" stroke-width="0.16" letter-spacing="-0.1">K15</text>
<circle cx="507.23" cy="67.30" r="5.2" fill="#f3e616" stroke="#1a1a1a" stroke-width="1.2"/>
<text x="507.23" y="69.15" font-size="4.7" text-anchor="middle" font-weight="bold" font-style="normal" fill="#111" stroke="#111" stroke-width="0.16" letter-spacing="-0.1">V16</text>
<circle cx="489.72" cy="115.39" r="5.2" fill="#f3e616" stroke="#1a1a1a" stroke-width="1.2"/>
<text x="489.72" y="117.24" font-size="4.7" text-anchor="middle" font-weight="bold" font-style="normal" fill="#111" stroke="#111" stroke-width="0.16" letter-spacing="-0.1">A17</text>
<circle cx="445.41" cy="89.80" r="5.2" fill="#f3e616" stroke="#1a1a1a" stroke-width="1.2"/>
<text x="445.41" y="91.65" font-size="4.7" text-anchor="middle" font-weight="bold" font-style="normal" fill="#111" stroke="#111" stroke-width="0.16" letter-spacing="-0.1">L18</text>
<circle cx="478.30" cy="39.80" r="5.2" fill="#1f57a7" stroke="#1a1a1a" stroke-width="1.2"/>
<text x="478.30" y="41.65" font-size="4.7" text-anchor="middle" font-weight="bold" font-style="normal" fill="#fff" stroke="#fff" stroke-width="0.16" letter-spacing="-0.1">K19</text>
<circle cx="521.83" cy="91.68" r="5.2" fill="#f3e616" stroke="#1a1a1a" stroke-width="1.2"/>
<text x="521.83" y="93.53" font-size="4.7" text-anchor="middle" font-weight="bold" font-style="normal" fill="#111" stroke="#111" stroke-width="0.16" letter-spacing="-0.1">A20</text>
<circle cx="463.18" cy="125.53" r="5.2" fill="#f3e616" stroke="#1a1a1a" stroke-width="1.2"/>
<text x="463.18" y="127.38" font-size="4.7" text-anchor="middle" font-weight="bold" font-style="normal" fill="#111" stroke="#111" stroke-width="0.16" letter-spacing="-0.1">L21</text>
<text x="478.30" y="87.40" font-size="8.8" text-anchor="middle" font-weight="bold" font-style="normal" fill="#222" stroke="#222" stroke-width="0.16" >PGLa-GS1</text>
<path d="M573.80 50.50 L606.69 89.70 L562.38 115.29 L544.87 67.20 L595.27 58.31 L595.27 109.49 L544.87 100.60 L562.38 52.51 L606.69 78.10 L573.80 117.30 L540.91 78.10 L585.22 52.51 L602.73 100.60 L552.33 109.49 L552.33 58.31 L602.73 67.20 L585.22 115.29 L540.91 89.70" fill="none" stroke="#1a1a1a" stroke-width="1.4"/>
<circle cx="573.8" cy="83.9" r="21.5" fill="#fff" stroke="#1a1a1a" stroke-width="1.4"/>
<circle cx="573.80" cy="50.50" r="5.2" fill="#58b244" stroke="#1a1a1a" stroke-width="1.2"/>
<text x="573.80" y="52.35" font-size="5.1" text-anchor="middle" font-weight="bold" font-style="normal" fill="#15300f" stroke="#15300f" stroke-width="0.16" letter-spacing="-0.1">G1</text>
<circle cx="606.69" cy="89.70" r="5.2" fill="#f3e616" stroke="#1a1a1a" stroke-width="1.2"/>
<text x="606.69" y="91.55" font-size="5.1" text-anchor="middle" font-weight="bold" font-style="normal" fill="#111" stroke="#111" stroke-width="0.16" letter-spacing="-0.1">M2</text>
<circle cx="562.38" cy="115.29" r="5.2" fill="#f3e616" stroke="#1a1a1a" stroke-width="1.2"/>
<text x="562.38" y="117.14" font-size="5.1" text-anchor="middle" font-weight="bold" font-style="normal" fill="#111" stroke="#111" stroke-width="0.16" letter-spacing="-0.1">A3</text>
<circle cx="544.87" cy="67.20" r="5.2" fill="#3b9ad9" stroke="#1a1a1a" stroke-width="1.2"/>
<text x="544.87" y="69.05" font-size="5.1" text-anchor="middle" font-weight="bold" font-style="normal" fill="#12305a" stroke="#12305a" stroke-width="0.16" letter-spacing="-0.1">S4</text>
<circle cx="595.27" cy="58.31" r="5.2" fill="#1f57a7" stroke="#1a1a1a" stroke-width="1.2"/>
<text x="595.27" y="60.16" font-size="5.1" text-anchor="middle" font-weight="bold" font-style="normal" fill="#fff" stroke="#fff" stroke-width="0.16" letter-spacing="-0.1">K5</text>
<circle cx="595.27" cy="109.49" r="5.2" fill="#f3e616" stroke="#1a1a1a" stroke-width="1.2"/>
<text x="595.27" y="111.34" font-size="5.1" text-anchor="middle" font-weight="bold" font-style="normal" fill="#111" stroke="#111" stroke-width="0.16" letter-spacing="-0.1">A6</text>
<circle cx="544.87" cy="100.60" r="5.2" fill="#f3e616" stroke="#1a1a1a" stroke-width="1.2"/>
<text x="544.87" y="102.45" font-size="5.1" text-anchor="middle" font-weight="bold" font-style="normal" fill="#111" stroke="#111" stroke-width="0.16" letter-spacing="-0.1">I7</text>
<circle cx="562.38" cy="52.51" r="5.2" fill="#f3e616" stroke="#1a1a1a" stroke-width="1.2"/>
<text x="562.38" y="54.36" font-size="5.1" text-anchor="middle" font-weight="bold" font-style="normal" fill="#111" stroke="#111" stroke-width="0.16" letter-spacing="-0.1">A8</text>
<circle cx="606.69" cy="78.10" r="5.65" fill="#58b244" stroke="#e0262d" stroke-width="1.9"/>
<text x="606.69" y="79.95" font-size="5.1" text-anchor="middle" font-weight="bold" font-style="normal" fill="#15300f" stroke="#15300f" stroke-width="0.16" letter-spacing="-0.1">G9</text>
<circle cx="573.80" cy="117.30" r="5.2" fill="#f3e616" stroke="#1a1a1a" stroke-width="1.2"/>
<text x="573.80" y="119.15" font-size="4.7" text-anchor="middle" font-weight="bold" font-style="normal" fill="#111" stroke="#111" stroke-width="0.16" letter-spacing="-0.1">A10</text>
<circle cx="540.91" cy="78.10" r="5.2" fill="#f3e616" stroke="#1a1a1a" stroke-width="1.2"/>
<text x="540.91" y="79.95" font-size="4.7" text-anchor="middle" font-weight="bold" font-style="normal" fill="#111" stroke="#111" stroke-width="0.16" letter-spacing="-0.1">I11</text>
<circle cx="585.22" cy="52.51" r="5.2" fill="#1f57a7" stroke="#1a1a1a" stroke-width="1.2"/>
<text x="585.22" y="54.36" font-size="4.7" text-anchor="middle" font-weight="bold" font-style="normal" fill="#fff" stroke="#fff" stroke-width="0.16" letter-spacing="-0.1">K12</text>
<circle cx="602.73" cy="100.60" r="5.65" fill="#58b244" stroke="#e0262d" stroke-width="1.9"/>
<text x="602.73" y="102.45" font-size="4.7" text-anchor="middle" font-weight="bold" font-style="normal" fill="#15300f" stroke="#15300f" stroke-width="0.16" letter-spacing="-0.1">G13</text>
<circle cx="552.33" cy="109.49" r="5.2" fill="#f3e616" stroke="#1a1a1a" stroke-width="1.2"/>
<text x="552.33" y="111.34" font-size="4.7" text-anchor="middle" font-weight="bold" font-style="normal" fill="#111" stroke="#111" stroke-width="0.16" letter-spacing="-0.1">A14</text>
<circle cx="552.33" cy="58.31" r="5.2" fill="#1f57a7" stroke="#1a1a1a" stroke-width="1.2"/>
<text x="552.33" y="60.16" font-size="4.7" text-anchor="middle" font-weight="bold" font-style="normal" fill="#fff" stroke="#fff" stroke-width="0.16" letter-spacing="-0.1">K15</text>
<circle cx="602.73" cy="67.20" r="5.2" fill="#f3e616" stroke="#1a1a1a" stroke-width="1.2"/>
<text x="602.73" y="69.05" font-size="4.7" text-anchor="middle" font-weight="bold" font-style="normal" fill="#111" stroke="#111" stroke-width="0.16" letter-spacing="-0.1">V16</text>
<circle cx="585.22" cy="115.29" r="5.2" fill="#f3e616" stroke="#1a1a1a" stroke-width="1.2"/>
<text x="585.22" y="117.14" font-size="4.7" text-anchor="middle" font-weight="bold" font-style="normal" fill="#111" stroke="#111" stroke-width="0.16" letter-spacing="-0.1">A17</text>
<circle cx="540.91" cy="89.70" r="5.2" fill="#f3e616" stroke="#1a1a1a" stroke-width="1.2"/>
<text x="540.91" y="91.55" font-size="4.7" text-anchor="middle" font-weight="bold" font-style="normal" fill="#111" stroke="#111" stroke-width="0.16" letter-spacing="-0.1">L18</text>
<circle cx="573.80" cy="39.70" r="5.2" fill="#1f57a7" stroke="#1a1a1a" stroke-width="1.2"/>
<text x="573.80" y="41.55" font-size="4.7" text-anchor="middle" font-weight="bold" font-style="normal" fill="#fff" stroke="#fff" stroke-width="0.16" letter-spacing="-0.1">K19</text>
<circle cx="617.33" cy="91.58" r="5.2" fill="#f3e616" stroke="#1a1a1a" stroke-width="1.2"/>
<text x="617.33" y="93.43" font-size="4.7" text-anchor="middle" font-weight="bold" font-style="normal" fill="#111" stroke="#111" stroke-width="0.16" letter-spacing="-0.1">A20</text>
<circle cx="558.68" cy="125.43" r="5.2" fill="#f3e616" stroke="#1a1a1a" stroke-width="1.2"/>
<text x="558.68" y="127.28" font-size="4.7" text-anchor="middle" font-weight="bold" font-style="normal" fill="#111" stroke="#111" stroke-width="0.16" letter-spacing="-0.1">L21</text>
<text x="573.80" y="87.30" font-size="8.8" text-anchor="middle" font-weight="bold" font-style="normal" fill="#222" stroke="#222" stroke-width="0.16" >PGLa-GS2</text>
<path d="M326.1 65.2 L337.3 73.4 M335.8 66.2 L337.3 73.4 L330.2 73.9" fill="none" stroke="#e0262d" stroke-width="1.25" stroke-linecap="round" stroke-linejoin="miter"/>
<path d="M330.2 111.2 L341.9 103.6 M334.8 103.1 L341.9 103.6 L340.4 110.7" fill="none" stroke="#e0262d" stroke-width="1.25" stroke-linecap="round" stroke-linejoin="miter"/>
<path d="M426.6 65.7 L437.9 73.4 M436.4 66.8 L437.9 73.4 L430.7 73.9" fill="none" stroke="#e0262d" stroke-width="1.25" stroke-linecap="round" stroke-linejoin="miter"/>
<path d="M437.9 121 L449.7 113.3 M443 112.8 L449.7 113.3 L448.1 119.9" fill="none" stroke="#e0262d" stroke-width="1.25" stroke-linecap="round" stroke-linejoin="miter"/>
<path d="M626.3 70.3 L614 74.4 M617.1 68.8 L614 74.4 L620.2 77" fill="none" stroke="#e0262d" stroke-width="1.25" stroke-linecap="round" stroke-linejoin="miter"/>
<path d="M620.7 113.3 L609.9 105.6 M616.6 104.6 L609.9 105.6 L611.5 112.3" fill="none" stroke="#e0262d" stroke-width="1.25" stroke-linecap="round" stroke-linejoin="miter"/>
<line x1="142.30" y1="354.6" x2="142.30" y2="433.1" stroke="#e0262d" stroke-width="1.45" stroke-dasharray="3.2 1.9"/>
<rect x="46.70" y="358.17" width="80.19" height="8.51" fill="#fff" stroke="none" stroke-width="0.6" />
<text x="47.70" y="364.40" font-size="7.6" text-anchor="start" font-weight="normal" font-style="normal" fill="#1a1a1a" stroke="#1a1a1a" stroke-width="0.16" >PGLa-WT + MAG2-WT</text>
<rect x="108.80" y="373.77" width="71.89" height="8.51" fill="#fff" stroke="none" stroke-width="0.6" />
<text x="109.80" y="380.00" font-size="7.6" text-anchor="start" font-weight="normal" font-style="normal" fill="#1a1a1a" stroke="#1a1a1a" stroke-width="0.16" >MtP-A3 + MAG2-WT</text>
<rect x="94.40" y="389.77" width="71.89" height="8.51" fill="#fff" stroke="none" stroke-width="0.6" />
<text x="95.40" y="396.00" font-size="7.6" text-anchor="start" font-weight="normal" font-style="normal" fill="#1a1a1a" stroke="#1a1a1a" stroke-width="0.16" >MtP-A4 + MAG2-WT</text>
<rect x="119.50" y="405.07" width="98.64" height="8.51" fill="#fff" stroke="none" stroke-width="0.6" />
<text x="120.50" y="411.30" font-size="7.6" text-anchor="start" font-weight="normal" font-style="normal" fill="#1a1a1a" stroke="#1a1a1a" stroke-width="0.16" >MtP-A7G-G18L + MAG2-WT</text>
<rect x="217.30" y="419.57" width="75.27" height="8.51" fill="#fff" stroke="none" stroke-width="0.6" />
<text x="218.30" y="425.80" font-size="7.6" text-anchor="start" font-weight="normal" font-style="normal" fill="#1a1a1a" stroke="#1a1a1a" stroke-width="0.16" >MSI-103 + MAG2-WT</text>
<rect x="12.30" y="356.40" width="22.10" height="6.20" fill="#1f57a7" stroke="#0c1d3a" stroke-width="1.05" />
<rect x="12.30" y="362.60" width="27.30" height="6.20" fill="#58b244" stroke="#173a10" stroke-width="1.05" />
<rect x="12.30" y="372.10" width="81.90" height="6.20" fill="#1f57a7" stroke="#0c1d3a" stroke-width="1.05" />
<rect x="12.30" y="387.80" width="61.23" height="6.20" fill="#1f57a7" stroke="#0c1d3a" stroke-width="1.05" />
<rect x="12.30" y="394.00" width="68.77" height="6.20" fill="#58b244" stroke="#173a10" stroke-width="1.05" />
<rect x="12.30" y="403.50" width="98.80" height="6.20" fill="#1f57a7" stroke="#0c1d3a" stroke-width="1.05" />
<rect x="12.30" y="409.70" width="101.40" height="6.20" fill="#58b244" stroke="#173a10" stroke-width="1.05" />
<rect x="12.30" y="419.20" width="146.38" height="6.20" fill="#1f57a7" stroke="#0c1d3a" stroke-width="1.05" />
<rect x="12.30" y="425.40" width="196.82" height="6.20" fill="#58b244" stroke="#173a10" stroke-width="1.05" />
<line x1="3.90" y1="354.60" x2="298.50" y2="354.60" stroke="#707070" stroke-width="0.8" />
<line x1="298.50" y1="354.20" x2="298.50" y2="433.50" stroke="#707070" stroke-width="0.8" />
<line x1="12.30" y1="354.60" x2="12.30" y2="433.10" stroke="#444" stroke-width="0.8" />
<line x1="3.90" y1="433.10" x2="298.50" y2="433.10" stroke="#707070" stroke-width="0.8" />
<line x1="3.90" y1="370.30" x2="12.30" y2="370.30" stroke="#1a1a1a" stroke-width="1.0" />
<line x1="3.90" y1="386.00" x2="12.30" y2="386.00" stroke="#1a1a1a" stroke-width="1.0" />
<line x1="3.90" y1="401.70" x2="12.30" y2="401.70" stroke="#1a1a1a" stroke-width="1.0" />
<line x1="3.90" y1="417.40" x2="12.30" y2="417.40" stroke="#1a1a1a" stroke-width="1.0" />
<line x1="3.90" y1="433.10" x2="12.30" y2="433.10" stroke="#1a1a1a" stroke-width="1.0" />
<line x1="12.30" y1="433.10" x2="12.30" y2="436.70" stroke="#333" stroke-width="0.9" />
<line x1="77.30" y1="433.10" x2="77.30" y2="435.08" stroke="#333" stroke-width="0.9" />
<line x1="142.30" y1="433.10" x2="142.30" y2="436.70" stroke="#333" stroke-width="0.9" />
<line x1="207.30" y1="433.10" x2="207.30" y2="435.08" stroke="#333" stroke-width="0.9" />
<line x1="272.30" y1="433.10" x2="272.30" y2="436.70" stroke="#333" stroke-width="0.9" />
<text x="12.30" y="447.40" font-size="8.9" text-anchor="middle" font-weight="normal" font-style="normal" fill="#1a1a1a" stroke="#1a1a1a" stroke-width="0.16" >0.0</text>
<text x="142.30" y="447.40" font-size="8.9" text-anchor="middle" font-weight="normal" font-style="normal" fill="#1a1a1a" stroke="#1a1a1a" stroke-width="0.16" >0.5</text>
<text x="272.30" y="447.40" font-size="8.9" text-anchor="middle" font-weight="normal" font-style="normal" fill="#1a1a1a" stroke="#1a1a1a" stroke-width="0.16" >1.0</text>
<text x="142.30" y="460.90" font-size="11.4" text-anchor="middle" font-weight="normal" font-style="normal" fill="#1a1a1a" stroke="#1a1a1a" stroke-width="0.16" >FICI</text>
<rect x="229.20" y="378.30" width="66.80" height="26.10" fill="#fff" stroke="#1a1a1a" stroke-width="0.9" />
<rect x="235.00" y="382.10" width="18.30" height="8.10" fill="#1f57a7" stroke="#0c1d3a" stroke-width="0.9" />
<rect x="235.00" y="392.30" width="18.30" height="8.10" fill="#58b244" stroke="#173a10" stroke-width="0.9" />
<text x="257.00" y="389.00" font-size="7.7" text-anchor="start" font-weight="normal" font-style="italic" fill="#1a1a1a" stroke="#1a1a1a" stroke-width="0.16" >E. coli</text>
<text x="257.00" y="399.10" font-size="7.7" text-anchor="start" font-weight="normal" font-style="italic" fill="#1a1a1a" stroke="#1a1a1a" stroke-width="0.16" >S. aureus</text>
<line x1="465.85" y1="358.5" x2="465.85" y2="420.9" stroke="#e0262d" stroke-width="1.45" stroke-dasharray="3.7 2.1"/>
<rect x="365.90" y="359.47" width="80.19" height="8.51" fill="#fff" stroke="none" stroke-width="0.6" />
<text x="366.90" y="365.70" font-size="7.6" text-anchor="start" font-weight="normal" font-style="normal" fill="#1a1a1a" stroke="#1a1a1a" stroke-width="0.16" >PGLa-WT + MAG2-WT</text>
<rect x="536.50" y="373.97" width="84.42" height="8.51" fill="#fff" stroke="none" stroke-width="0.6" />
<text x="537.50" y="380.20" font-size="7.6" text-anchor="start" font-weight="normal" font-style="normal" fill="#1a1a1a" stroke="#1a1a1a" stroke-width="0.16" >PGLa-G11I + MAG2-WT</text>
<rect x="510.60" y="390.77" width="83.72" height="8.51" fill="#fff" stroke="none" stroke-width="0.6" />
<text x="511.60" y="397.00" font-size="7.6" text-anchor="start" font-weight="normal" font-style="normal" fill="#1a1a1a" stroke="#1a1a1a" stroke-width="0.16" >PGLa-GS1 + MAG2-WT</text>
<rect x="521.30" y="406.97" width="83.72" height="8.51" fill="#fff" stroke="none" stroke-width="0.6" />
<text x="522.30" y="413.20" font-size="7.6" text-anchor="start" font-weight="normal" font-style="normal" fill="#1a1a1a" stroke="#1a1a1a" stroke-width="0.16" >PGLa-GS2 + MAG2-WT</text>
<rect x="335.70" y="360.40" width="21.87" height="6.20" fill="#1f57a7" stroke="#0c1d3a" stroke-width="1.05" />
<rect x="335.70" y="366.60" width="26.81" height="6.20" fill="#58b244" stroke="#173a10" stroke-width="1.05" />
<rect x="335.70" y="376.00" width="198.87" height="6.20" fill="#1f57a7" stroke="#0c1d3a" stroke-width="1.05" />
<rect x="335.70" y="382.20" width="261.60" height="6.20" fill="#58b244" stroke="#173a10" stroke-width="1.05" />
<rect x="335.70" y="391.60" width="162.69" height="6.20" fill="#1f57a7" stroke="#0c1d3a" stroke-width="1.05" />
<rect x="335.70" y="397.80" width="147.07" height="6.20" fill="#58b244" stroke="#173a10" stroke-width="1.05" />
<rect x="335.70" y="407.20" width="179.61" height="6.20" fill="#1f57a7" stroke="#0c1d3a" stroke-width="1.05" />
<rect x="335.70" y="413.40" width="132.75" height="6.20" fill="#58b244" stroke="#173a10" stroke-width="1.05" />
<line x1="330.10" y1="358.50" x2="622.60" y2="358.50" stroke="#707070" stroke-width="0.8" />
<line x1="622.60" y1="358.10" x2="622.60" y2="421.30" stroke="#707070" stroke-width="0.8" />
<line x1="335.70" y1="358.50" x2="335.70" y2="420.90" stroke="#444" stroke-width="0.8" />
<line x1="330.10" y1="420.90" x2="622.60" y2="420.90" stroke="#707070" stroke-width="0.8" />
<line x1="330.10" y1="374.10" x2="335.70" y2="374.10" stroke="#1a1a1a" stroke-width="1.0" />
<line x1="330.10" y1="389.70" x2="335.70" y2="389.70" stroke="#1a1a1a" stroke-width="1.0" />
<line x1="330.10" y1="405.30" x2="335.70" y2="405.30" stroke="#1a1a1a" stroke-width="1.0" />
<line x1="330.10" y1="420.90" x2="335.70" y2="420.90" stroke="#1a1a1a" stroke-width="1.0" />
<line x1="335.70" y1="420.90" x2="335.70" y2="425.70" stroke="#333" stroke-width="0.9" />
<line x1="400.77" y1="420.90" x2="400.77" y2="423.54" stroke="#333" stroke-width="0.9" />
<line x1="465.85" y1="420.90" x2="465.85" y2="425.70" stroke="#333" stroke-width="0.9" />
<line x1="530.92" y1="420.90" x2="530.92" y2="423.54" stroke="#333" stroke-width="0.9" />
<line x1="596.00" y1="420.90" x2="596.00" y2="425.70" stroke="#333" stroke-width="0.9" />
<text x="335.70" y="436.00" font-size="8.9" text-anchor="middle" font-weight="normal" font-style="normal" fill="#1a1a1a" stroke="#1a1a1a" stroke-width="0.16" >0.0</text>
<text x="465.85" y="436.00" font-size="8.9" text-anchor="middle" font-weight="normal" font-style="normal" fill="#1a1a1a" stroke="#1a1a1a" stroke-width="0.16" >0.5</text>
<text x="596.00" y="436.00" font-size="8.9" text-anchor="middle" font-weight="normal" font-style="normal" fill="#1a1a1a" stroke="#1a1a1a" stroke-width="0.16" >1.0</text>
<text x="465.85" y="448.70" font-size="11.4" text-anchor="middle" font-weight="normal" font-style="normal" fill="#1a1a1a" stroke="#1a1a1a" stroke-width="0.16" >FICI</text>
<rect x="548.00" y="329.30" width="67.70" height="22.30" fill="#fff" stroke="#1a1a1a" stroke-width="0.9" />
<rect x="555.60" y="331.30" width="17.70" height="7.70" fill="#1f57a7" stroke="#0c1d3a" stroke-width="0.9" />
<rect x="555.60" y="341.50" width="17.70" height="7.70" fill="#58b244" stroke="#173a10" stroke-width="0.9" />
<text x="576.90" y="338.00" font-size="7.7" text-anchor="start" font-weight="normal" font-style="italic" fill="#1a1a1a" stroke="#1a1a1a" stroke-width="0.16" >E. coli</text>
<text x="576.90" y="348.20" font-size="7.7" text-anchor="start" font-weight="normal" font-style="italic" fill="#1a1a1a" stroke="#1a1a1a" stroke-width="0.16" >S. aureus</text>
<line x1="40.63" y1="524.5" x2="40.63" y2="642" stroke="#e0262d" stroke-width="1.5" stroke-dasharray="6.7 2.9" stroke-dashoffset="5.9"/>
<text x="193.00" y="537.70" font-size="7.6" text-anchor="start" font-weight="normal" font-style="normal" fill="#1a1a1a" stroke="#1a1a1a" stroke-width="0.16" >PGLa-WT + MAG2-WT</text>
<text x="45.40" y="561.70" font-size="7.6" text-anchor="start" font-weight="normal" font-style="normal" fill="#1a1a1a" stroke="#1a1a1a" stroke-width="0.16" >MtP-A3 + MAG2-WT</text>
<text x="104.00" y="586.10" font-size="7.6" text-anchor="start" font-weight="normal" font-style="normal" fill="#1a1a1a" stroke="#1a1a1a" stroke-width="0.16" >MtP-A4 + MAG2-WT</text>
<text x="113.50" y="611.00" font-size="7.6" text-anchor="start" font-weight="normal" font-style="normal" fill="#1a1a1a" stroke="#1a1a1a" stroke-width="0.16" >MtP-A7G-G18L + MAG2-WT</text>
<text x="45.40" y="634.90" font-size="7.6" text-anchor="start" font-weight="normal" font-style="normal" fill="#1a1a1a" stroke="#1a1a1a" stroke-width="0.16" >MSI-103 + MAG2-WT</text>
<line x1="183.78" y1="529.70" x2="190.94" y2="529.70" stroke="#151515" stroke-width="0.95" />
<line x1="190.94" y1="527.70" x2="190.94" y2="531.70" stroke="#151515" stroke-width="0.95" />
<line x1="28.03" y1="535.90" x2="30.61" y2="535.90" stroke="#151515" stroke-width="0.95" />
<line x1="30.61" y1="533.90" x2="30.61" y2="537.90" stroke="#151515" stroke-width="0.95" />
<line x1="161.59" y1="542.10" x2="185.21" y2="542.10" stroke="#151515" stroke-width="0.95" />
<line x1="185.21" y1="540.10" x2="185.21" y2="544.10" stroke="#151515" stroke-width="0.95" />
<clipPath id="hc1"><rect x="12.00" y="526.60" width="171.78" height="6.20"/></clipPath>
<rect x="12.00" y="526.60" width="171.78" height="6.20" fill="#ffd932"/>
<path d="M3.93 526.60 l1.5 0 l5.27 6.20 l-1.5 0 z M7.33 526.60 l1.5 0 l5.27 6.20 l-1.5 0 z M10.73 526.60 l1.5 0 l5.27 6.20 l-1.5 0 z M14.13 526.60 l1.5 0 l5.27 6.20 l-1.5 0 z M17.53 526.60 l1.5 0 l5.27 6.20 l-1.5 0 z M20.93 526.60 l1.5 0 l5.27 6.20 l-1.5 0 z M24.33 526.60 l1.5 0 l5.27 6.20 l-1.5 0 z M27.73 526.60 l1.5 0 l5.27 6.20 l-1.5 0 z M31.13 526.60 l1.5 0 l5.27 6.20 l-1.5 0 z M34.53 526.60 l1.5 0 l5.27 6.20 l-1.5 0 z M37.93 526.60 l1.5 0 l5.27 6.20 l-1.5 0 z M41.33 526.60 l1.5 0 l5.27 6.20 l-1.5 0 z M44.73 526.60 l1.5 0 l5.27 6.20 l-1.5 0 z M48.13 526.60 l1.5 0 l5.27 6.20 l-1.5 0 z M51.53 526.60 l1.5 0 l5.27 6.20 l-1.5 0 z M54.93 526.60 l1.5 0 l5.27 6.20 l-1.5 0 z M58.33 526.60 l1.5 0 l5.27 6.20 l-1.5 0 z M61.73 526.60 l1.5 0 l5.27 6.20 l-1.5 0 z M65.13 526.60 l1.5 0 l5.27 6.20 l-1.5 0 z M68.53 526.60 l1.5 0 l5.27 6.20 l-1.5 0 z M71.93 526.60 l1.5 0 l5.27 6.20 l-1.5 0 z M75.33 526.60 l1.5 0 l5.27 6.20 l-1.5 0 z M78.73 526.60 l1.5 0 l5.27 6.20 l-1.5 0 z M82.13 526.60 l1.5 0 l5.27 6.20 l-1.5 0 z M85.53 526.60 l1.5 0 l5.27 6.20 l-1.5 0 z M88.93 526.60 l1.5 0 l5.27 6.20 l-1.5 0 z M92.33 526.60 l1.5 0 l5.27 6.20 l-1.5 0 z M95.73 526.60 l1.5 0 l5.27 6.20 l-1.5 0 z M99.13 526.60 l1.5 0 l5.27 6.20 l-1.5 0 z M102.53 526.60 l1.5 0 l5.27 6.20 l-1.5 0 z M105.93 526.60 l1.5 0 l5.27 6.20 l-1.5 0 z M109.33 526.60 l1.5 0 l5.27 6.20 l-1.5 0 z M112.73 526.60 l1.5 0 l5.27 6.20 l-1.5 0 z M116.13 526.60 l1.5 0 l5.27 6.20 l-1.5 0 z M119.53 526.60 l1.5 0 l5.27 6.20 l-1.5 0 z M122.93 526.60 l1.5 0 l5.27 6.20 l-1.5 0 z M126.33 526.60 l1.5 0 l5.27 6.20 l-1.5 0 z M129.73 526.60 l1.5 0 l5.27 6.20 l-1.5 0 z M133.13 526.60 l1.5 0 l5.27 6.20 l-1.5 0 z M136.53 526.60 l1.5 0 l5.27 6.20 l-1.5 0 z M139.93 526.60 l1.5 0 l5.27 6.20 l-1.5 0 z M143.33 526.60 l1.5 0 l5.27 6.20 l-1.5 0 z M146.73 526.60 l1.5 0 l5.27 6.20 l-1.5 0 z M150.13 526.60 l1.5 0 l5.27 6.20 l-1.5 0 z M153.53 526.60 l1.5 0 l5.27 6.20 l-1.5 0 z M156.93 526.60 l1.5 0 l5.27 6.20 l-1.5 0 z M160.33 526.60 l1.5 0 l5.27 6.20 l-1.5 0 z M163.73 526.60 l1.5 0 l5.27 6.20 l-1.5 0 z M167.13 526.60 l1.5 0 l5.27 6.20 l-1.5 0 z M170.53 526.60 l1.5 0 l5.27 6.20 l-1.5 0 z M173.93 526.60 l1.5 0 l5.27 6.20 l-1.5 0 z M177.33 526.60 l1.5 0 l5.27 6.20 l-1.5 0 z M180.73 526.60 l1.5 0 l5.27 6.20 l-1.5 0 z M184.13 526.60 l1.5 0 l5.27 6.20 l-1.5 0 z" fill="#e3850f" clip-path="url(#hc1)"/>
<rect x="12.00" y="526.60" width="171.78" height="6.20" fill="none" stroke="#3a1c08" stroke-width="1.05"/>
<rect x="12.00" y="532.80" width="6.87" height="6.20" fill="#f2e526" stroke="#3a1c08" stroke-width="0.8" />
<rect x="18.87" y="532.80" width="9.16" height="6.20" fill="#e8352c" stroke="#8a1a12" stroke-width="0.8" />
<rect x="12.00" y="539.00" width="149.59" height="6.20" fill="#7c1517" stroke="#3e0809" stroke-width="0.8" />
<line x1="22.88" y1="553.35" x2="23.74" y2="553.35" stroke="#151515" stroke-width="0.95" />
<line x1="23.74" y1="551.35" x2="23.74" y2="555.35" stroke="#151515" stroke-width="0.95" />
<line x1="22.88" y1="559.55" x2="26.31" y2="559.55" stroke="#151515" stroke-width="0.95" />
<line x1="26.31" y1="557.55" x2="26.31" y2="561.55" stroke="#151515" stroke-width="0.95" />
<line x1="24.60" y1="565.75" x2="28.32" y2="565.75" stroke="#151515" stroke-width="0.95" />
<line x1="28.32" y1="563.75" x2="28.32" y2="567.75" stroke="#151515" stroke-width="0.95" />
<clipPath id="hc2"><rect x="12.00" y="550.25" width="10.88" height="6.20"/></clipPath>
<rect x="12.00" y="550.25" width="10.88" height="6.20" fill="#ffd932"/>
<path d="M3.93 550.25 l1.5 0 l5.27 6.20 l-1.5 0 z M7.33 550.25 l1.5 0 l5.27 6.20 l-1.5 0 z M10.73 550.25 l1.5 0 l5.27 6.20 l-1.5 0 z M14.13 550.25 l1.5 0 l5.27 6.20 l-1.5 0 z M17.53 550.25 l1.5 0 l5.27 6.20 l-1.5 0 z M20.93 550.25 l1.5 0 l5.27 6.20 l-1.5 0 z M24.33 550.25 l1.5 0 l5.27 6.20 l-1.5 0 z" fill="#e3850f" clip-path="url(#hc2)"/>
<rect x="12.00" y="550.25" width="10.88" height="6.20" fill="none" stroke="#3a1c08" stroke-width="1.05"/>
<rect x="12.00" y="556.45" width="2.86" height="6.20" fill="#f2e526" stroke="#3a1c08" stroke-width="0.8" />
<rect x="14.86" y="556.45" width="8.02" height="6.20" fill="#e8352c" stroke="#8a1a12" stroke-width="0.8" />
<rect x="12.00" y="562.65" width="12.60" height="6.20" fill="#7c1517" stroke="#3e0809" stroke-width="0.8" />
<line x1="89.30" y1="577.00" x2="107.34" y2="577.00" stroke="#151515" stroke-width="0.95" />
<line x1="107.34" y1="575.00" x2="107.34" y2="579.00" stroke="#151515" stroke-width="0.95" />
<line x1="28.61" y1="583.20" x2="30.61" y2="583.20" stroke="#151515" stroke-width="0.95" />
<line x1="30.61" y1="581.20" x2="30.61" y2="585.20" stroke="#151515" stroke-width="0.95" />
<line x1="86.87" y1="589.40" x2="102.18" y2="589.40" stroke="#151515" stroke-width="0.95" />
<line x1="102.18" y1="587.40" x2="102.18" y2="591.40" stroke="#151515" stroke-width="0.95" />
<clipPath id="hc3"><rect x="12.00" y="573.90" width="77.30" height="6.20"/></clipPath>
<rect x="12.00" y="573.90" width="77.30" height="6.20" fill="#ffd932"/>
<path d="M3.93 573.90 l1.5 0 l5.27 6.20 l-1.5 0 z M7.33 573.90 l1.5 0 l5.27 6.20 l-1.5 0 z M10.73 573.90 l1.5 0 l5.27 6.20 l-1.5 0 z M14.13 573.90 l1.5 0 l5.27 6.20 l-1.5 0 z M17.53 573.90 l1.5 0 l5.27 6.20 l-1.5 0 z M20.93 573.90 l1.5 0 l5.27 6.20 l-1.5 0 z M24.33 573.90 l1.5 0 l5.27 6.20 l-1.5 0 z M27.73 573.90 l1.5 0 l5.27 6.20 l-1.5 0 z M31.13 573.90 l1.5 0 l5.27 6.20 l-1.5 0 z M34.53 573.90 l1.5 0 l5.27 6.20 l-1.5 0 z M37.93 573.90 l1.5 0 l5.27 6.20 l-1.5 0 z M41.33 573.90 l1.5 0 l5.27 6.20 l-1.5 0 z M44.73 573.90 l1.5 0 l5.27 6.20 l-1.5 0 z M48.13 573.90 l1.5 0 l5.27 6.20 l-1.5 0 z M51.53 573.90 l1.5 0 l5.27 6.20 l-1.5 0 z M54.93 573.90 l1.5 0 l5.27 6.20 l-1.5 0 z M58.33 573.90 l1.5 0 l5.27 6.20 l-1.5 0 z M61.73 573.90 l1.5 0 l5.27 6.20 l-1.5 0 z M65.13 573.90 l1.5 0 l5.27 6.20 l-1.5 0 z M68.53 573.90 l1.5 0 l5.27 6.20 l-1.5 0 z M71.93 573.90 l1.5 0 l5.27 6.20 l-1.5 0 z M75.33 573.90 l1.5 0 l5.27 6.20 l-1.5 0 z M78.73 573.90 l1.5 0 l5.27 6.20 l-1.5 0 z M82.13 573.90 l1.5 0 l5.27 6.20 l-1.5 0 z M85.53 573.90 l1.5 0 l5.27 6.20 l-1.5 0 z M88.93 573.90 l1.5 0 l5.27 6.20 l-1.5 0 z M92.33 573.90 l1.5 0 l5.27 6.20 l-1.5 0 z" fill="#e3850f" clip-path="url(#hc3)"/>
<rect x="12.00" y="573.90" width="77.30" height="6.20" fill="none" stroke="#3a1c08" stroke-width="1.05"/>
<rect x="12.00" y="580.10" width="7.44" height="6.20" fill="#f2e526" stroke="#3a1c08" stroke-width="0.8" />
<rect x="19.44" y="580.10" width="9.16" height="6.20" fill="#e8352c" stroke="#8a1a12" stroke-width="0.8" />
<rect x="12.00" y="586.30" width="74.87" height="6.20" fill="#7c1517" stroke="#3e0809" stroke-width="0.8" />
<line x1="111.63" y1="600.65" x2="122.51" y2="600.65" stroke="#151515" stroke-width="0.95" />
<line x1="122.51" y1="598.65" x2="122.51" y2="602.65" stroke="#151515" stroke-width="0.95" />
<line x1="34.90" y1="606.85" x2="36.91" y2="606.85" stroke="#151515" stroke-width="0.95" />
<line x1="36.91" y1="604.85" x2="36.91" y2="608.85" stroke="#151515" stroke-width="0.95" />
<line x1="73.55" y1="613.05" x2="81.28" y2="613.05" stroke="#151515" stroke-width="0.95" />
<line x1="81.28" y1="611.05" x2="81.28" y2="615.05" stroke="#151515" stroke-width="0.95" />
<clipPath id="hc4"><rect x="12.00" y="597.55" width="99.63" height="6.20"/></clipPath>
<rect x="12.00" y="597.55" width="99.63" height="6.20" fill="#ffd932"/>
<path d="M3.93 597.55 l1.5 0 l5.27 6.20 l-1.5 0 z M7.33 597.55 l1.5 0 l5.27 6.20 l-1.5 0 z M10.73 597.55 l1.5 0 l5.27 6.20 l-1.5 0 z M14.13 597.55 l1.5 0 l5.27 6.20 l-1.5 0 z M17.53 597.55 l1.5 0 l5.27 6.20 l-1.5 0 z M20.93 597.55 l1.5 0 l5.27 6.20 l-1.5 0 z M24.33 597.55 l1.5 0 l5.27 6.20 l-1.5 0 z M27.73 597.55 l1.5 0 l5.27 6.20 l-1.5 0 z M31.13 597.55 l1.5 0 l5.27 6.20 l-1.5 0 z M34.53 597.55 l1.5 0 l5.27 6.20 l-1.5 0 z M37.93 597.55 l1.5 0 l5.27 6.20 l-1.5 0 z M41.33 597.55 l1.5 0 l5.27 6.20 l-1.5 0 z M44.73 597.55 l1.5 0 l5.27 6.20 l-1.5 0 z M48.13 597.55 l1.5 0 l5.27 6.20 l-1.5 0 z M51.53 597.55 l1.5 0 l5.27 6.20 l-1.5 0 z M54.93 597.55 l1.5 0 l5.27 6.20 l-1.5 0 z M58.33 597.55 l1.5 0 l5.27 6.20 l-1.5 0 z M61.73 597.55 l1.5 0 l5.27 6.20 l-1.5 0 z M65.13 597.55 l1.5 0 l5.27 6.20 l-1.5 0 z M68.53 597.55 l1.5 0 l5.27 6.20 l-1.5 0 z M71.93 597.55 l1.5 0 l5.27 6.20 l-1.5 0 z M75.33 597.55 l1.5 0 l5.27 6.20 l-1.5 0 z M78.73 597.55 l1.5 0 l5.27 6.20 l-1.5 0 z M82.13 597.55 l1.5 0 l5.27 6.20 l-1.5 0 z M85.53 597.55 l1.5 0 l5.27 6.20 l-1.5 0 z M88.93 597.55 l1.5 0 l5.27 6.20 l-1.5 0 z M92.33 597.55 l1.5 0 l5.27 6.20 l-1.5 0 z M95.73 597.55 l1.5 0 l5.27 6.20 l-1.5 0 z M99.13 597.55 l1.5 0 l5.27 6.20 l-1.5 0 z M102.53 597.55 l1.5 0 l5.27 6.20 l-1.5 0 z M105.93 597.55 l1.5 0 l5.27 6.20 l-1.5 0 z M109.33 597.55 l1.5 0 l5.27 6.20 l-1.5 0 z M112.73 597.55 l1.5 0 l5.27 6.20 l-1.5 0 z" fill="#e3850f" clip-path="url(#hc4)"/>
<rect x="12.00" y="597.55" width="99.63" height="6.20" fill="none" stroke="#3a1c08" stroke-width="1.05"/>
<rect x="12.00" y="603.75" width="14.31" height="6.20" fill="#f2e526" stroke="#3a1c08" stroke-width="0.8" />
<rect x="26.31" y="603.75" width="8.59" height="6.20" fill="#e8352c" stroke="#8a1a12" stroke-width="0.8" />
<rect x="12.00" y="609.95" width="61.55" height="6.20" fill="#7c1517" stroke="#3e0809" stroke-width="0.8" />
<line x1="27.75" y1="630.50" x2="29.75" y2="630.50" stroke="#151515" stroke-width="0.95" />
<line x1="29.75" y1="628.50" x2="29.75" y2="632.50" stroke="#151515" stroke-width="0.95" />
<line x1="21.59" y1="636.70" x2="22.31" y2="636.70" stroke="#151515" stroke-width="0.95" />
<line x1="22.31" y1="634.70" x2="22.31" y2="638.70" stroke="#151515" stroke-width="0.95" />
<clipPath id="hc5"><rect x="12.00" y="621.20" width="10.59" height="6.20"/></clipPath>
<rect x="12.00" y="621.20" width="10.59" height="6.20" fill="#ffd932"/>
<path d="M3.93 621.20 l1.5 0 l5.27 6.20 l-1.5 0 z M7.33 621.20 l1.5 0 l5.27 6.20 l-1.5 0 z M10.73 621.20 l1.5 0 l5.27 6.20 l-1.5 0 z M14.13 621.20 l1.5 0 l5.27 6.20 l-1.5 0 z M17.53 621.20 l1.5 0 l5.27 6.20 l-1.5 0 z M20.93 621.20 l1.5 0 l5.27 6.20 l-1.5 0 z M24.33 621.20 l1.5 0 l5.27 6.20 l-1.5 0 z" fill="#e3850f" clip-path="url(#hc5)"/>
<rect x="12.00" y="621.20" width="10.59" height="6.20" fill="none" stroke="#3a1c08" stroke-width="1.05"/>
<rect x="12.00" y="627.40" width="5.44" height="6.20" fill="#f2e526" stroke="#3a1c08" stroke-width="0.8" />
<rect x="17.44" y="627.40" width="10.31" height="6.20" fill="#e8352c" stroke="#8a1a12" stroke-width="0.8" />
<rect x="12.00" y="633.60" width="9.59" height="6.20" fill="#7c1517" stroke="#3e0809" stroke-width="0.8" />
<line x1="12.00" y1="524.50" x2="12.00" y2="642.00" stroke="#222" stroke-width="0.9" />
<line x1="7.30" y1="524.50" x2="298.30" y2="524.50" stroke="#222" stroke-width="0.9" />
<line x1="7.30" y1="642.00" x2="298.30" y2="642.00" stroke="#222" stroke-width="0.9" />
<line x1="298.30" y1="524.10" x2="298.30" y2="642.40" stroke="#3a3a3a" stroke-width="0.9" />
<line x1="7.30" y1="524.50" x2="12.00" y2="524.50" stroke="#1a1a1a" stroke-width="1.0" />
<line x1="7.30" y1="548.00" x2="12.00" y2="548.00" stroke="#1a1a1a" stroke-width="1.0" />
<line x1="7.30" y1="571.50" x2="12.00" y2="571.50" stroke="#1a1a1a" stroke-width="1.0" />
<line x1="7.30" y1="595.00" x2="12.00" y2="595.00" stroke="#1a1a1a" stroke-width="1.0" />
<line x1="7.30" y1="618.50" x2="12.00" y2="618.50" stroke="#1a1a1a" stroke-width="1.0" />
<line x1="7.30" y1="642.00" x2="12.00" y2="642.00" stroke="#1a1a1a" stroke-width="1.0" />
<line x1="12.00" y1="524.50" x2="12.00" y2="520.50" stroke="#333" stroke-width="0.9" />
<line x1="12.00" y1="642.00" x2="12.00" y2="646.00" stroke="#333" stroke-width="0.9" />
<line x1="26.32" y1="524.50" x2="26.32" y2="522.40" stroke="#333" stroke-width="0.9" />
<line x1="26.32" y1="642.00" x2="26.32" y2="644.10" stroke="#333" stroke-width="0.9" />
<line x1="40.63" y1="524.50" x2="40.63" y2="520.50" stroke="#333" stroke-width="0.9" />
<line x1="40.63" y1="642.00" x2="40.63" y2="646.00" stroke="#333" stroke-width="0.9" />
<line x1="54.95" y1="524.50" x2="54.95" y2="522.40" stroke="#333" stroke-width="0.9" />
<line x1="54.95" y1="642.00" x2="54.95" y2="644.10" stroke="#333" stroke-width="0.9" />
<line x1="69.26" y1="524.50" x2="69.26" y2="520.50" stroke="#333" stroke-width="0.9" />
<line x1="69.26" y1="642.00" x2="69.26" y2="646.00" stroke="#333" stroke-width="0.9" />
<line x1="83.58" y1="524.50" x2="83.58" y2="522.40" stroke="#333" stroke-width="0.9" />
<line x1="83.58" y1="642.00" x2="83.58" y2="644.10" stroke="#333" stroke-width="0.9" />
<line x1="97.89" y1="524.50" x2="97.89" y2="520.50" stroke="#333" stroke-width="0.9" />
<line x1="97.89" y1="642.00" x2="97.89" y2="646.00" stroke="#333" stroke-width="0.9" />
<line x1="112.21" y1="524.50" x2="112.21" y2="522.40" stroke="#333" stroke-width="0.9" />
<line x1="112.21" y1="642.00" x2="112.21" y2="644.10" stroke="#333" stroke-width="0.9" />
<line x1="126.52" y1="524.50" x2="126.52" y2="520.50" stroke="#333" stroke-width="0.9" />
<line x1="126.52" y1="642.00" x2="126.52" y2="646.00" stroke="#333" stroke-width="0.9" />
<line x1="140.84" y1="524.50" x2="140.84" y2="522.40" stroke="#333" stroke-width="0.9" />
<line x1="140.84" y1="642.00" x2="140.84" y2="644.10" stroke="#333" stroke-width="0.9" />
<line x1="155.15" y1="524.50" x2="155.15" y2="520.50" stroke="#333" stroke-width="0.9" />
<line x1="155.15" y1="642.00" x2="155.15" y2="646.00" stroke="#333" stroke-width="0.9" />
<line x1="169.47" y1="524.50" x2="169.47" y2="522.40" stroke="#333" stroke-width="0.9" />
<line x1="169.47" y1="642.00" x2="169.47" y2="644.10" stroke="#333" stroke-width="0.9" />
<line x1="183.78" y1="524.50" x2="183.78" y2="520.50" stroke="#333" stroke-width="0.9" />
<line x1="183.78" y1="642.00" x2="183.78" y2="646.00" stroke="#333" stroke-width="0.9" />
<line x1="198.09" y1="524.50" x2="198.09" y2="522.40" stroke="#333" stroke-width="0.9" />
<line x1="198.09" y1="642.00" x2="198.09" y2="644.10" stroke="#333" stroke-width="0.9" />
<line x1="212.41" y1="524.50" x2="212.41" y2="520.50" stroke="#333" stroke-width="0.9" />
<line x1="212.41" y1="642.00" x2="212.41" y2="646.00" stroke="#333" stroke-width="0.9" />
<line x1="226.72" y1="524.50" x2="226.72" y2="522.40" stroke="#333" stroke-width="0.9" />
<line x1="226.72" y1="642.00" x2="226.72" y2="644.10" stroke="#333" stroke-width="0.9" />
<line x1="241.04" y1="524.50" x2="241.04" y2="520.50" stroke="#333" stroke-width="0.9" />
<line x1="241.04" y1="642.00" x2="241.04" y2="646.00" stroke="#333" stroke-width="0.9" />
<line x1="255.36" y1="524.50" x2="255.36" y2="522.40" stroke="#333" stroke-width="0.9" />
<line x1="255.36" y1="642.00" x2="255.36" y2="644.10" stroke="#333" stroke-width="0.9" />
<line x1="269.67" y1="524.50" x2="269.67" y2="520.50" stroke="#333" stroke-width="0.9" />
<line x1="269.67" y1="642.00" x2="269.67" y2="646.00" stroke="#333" stroke-width="0.9" />
<line x1="283.99" y1="524.50" x2="283.99" y2="522.40" stroke="#333" stroke-width="0.9" />
<line x1="283.99" y1="642.00" x2="283.99" y2="644.10" stroke="#333" stroke-width="0.9" />
<line x1="298.30" y1="524.50" x2="298.30" y2="520.50" stroke="#333" stroke-width="0.9" />
<line x1="298.30" y1="642.00" x2="298.30" y2="646.00" stroke="#333" stroke-width="0.9" />
<text x="12.00" y="514.70" font-size="8.6" text-anchor="middle" font-weight="normal" font-style="normal" fill="#1a1a1a" stroke="#1a1a1a" stroke-width="0.16" >0</text>
<text x="12.00" y="657.20" font-size="8.9" text-anchor="middle" font-weight="normal" font-style="normal" fill="#1a1a1a" stroke="#1a1a1a" stroke-width="0.16" >0</text>
<text x="40.63" y="514.70" font-size="8.6" text-anchor="middle" font-weight="normal" font-style="normal" fill="#1a1a1a" stroke="#1a1a1a" stroke-width="0.16" >10</text>
<text x="40.63" y="657.20" font-size="8.9" text-anchor="middle" font-weight="normal" font-style="normal" fill="#1a1a1a" stroke="#1a1a1a" stroke-width="0.16" >2</text>
<text x="69.26" y="514.70" font-size="8.6" text-anchor="middle" font-weight="normal" font-style="normal" fill="#1a1a1a" stroke="#1a1a1a" stroke-width="0.16" >20</text>
<text x="69.26" y="657.20" font-size="8.9" text-anchor="middle" font-weight="normal" font-style="normal" fill="#1a1a1a" stroke="#1a1a1a" stroke-width="0.16" >4</text>
<text x="97.89" y="514.70" font-size="8.6" text-anchor="middle" font-weight="normal" font-style="normal" fill="#1a1a1a" stroke="#1a1a1a" stroke-width="0.16" >30</text>
<text x="97.89" y="657.20" font-size="8.9" text-anchor="middle" font-weight="normal" font-style="normal" fill="#1a1a1a" stroke="#1a1a1a" stroke-width="0.16" >6</text>
<text x="126.52" y="514.70" font-size="8.6" text-anchor="middle" font-weight="normal" font-style="normal" fill="#1a1a1a" stroke="#1a1a1a" stroke-width="0.16" >40</text>
<text x="126.52" y="657.20" font-size="8.9" text-anchor="middle" font-weight="normal" font-style="normal" fill="#1a1a1a" stroke="#1a1a1a" stroke-width="0.16" >8</text>
<text x="155.15" y="514.70" font-size="8.6" text-anchor="middle" font-weight="normal" font-style="normal" fill="#1a1a1a" stroke="#1a1a1a" stroke-width="0.16" >50</text>
<text x="155.15" y="657.20" font-size="8.9" text-anchor="middle" font-weight="normal" font-style="normal" fill="#1a1a1a" stroke="#1a1a1a" stroke-width="0.16" >10</text>
<text x="183.78" y="514.70" font-size="8.6" text-anchor="middle" font-weight="normal" font-style="normal" fill="#1a1a1a" stroke="#1a1a1a" stroke-width="0.16" >60</text>
<text x="183.78" y="657.20" font-size="8.9" text-anchor="middle" font-weight="normal" font-style="normal" fill="#1a1a1a" stroke="#1a1a1a" stroke-width="0.16" >12</text>
<text x="212.41" y="514.70" font-size="8.6" text-anchor="middle" font-weight="normal" font-style="normal" fill="#1a1a1a" stroke="#1a1a1a" stroke-width="0.16" >70</text>
<text x="212.41" y="657.20" font-size="8.9" text-anchor="middle" font-weight="normal" font-style="normal" fill="#1a1a1a" stroke="#1a1a1a" stroke-width="0.16" >14</text>
<text x="241.04" y="514.70" font-size="8.6" text-anchor="middle" font-weight="normal" font-style="normal" fill="#1a1a1a" stroke="#1a1a1a" stroke-width="0.16" >80</text>
<text x="241.04" y="657.20" font-size="8.9" text-anchor="middle" font-weight="normal" font-style="normal" fill="#1a1a1a" stroke="#1a1a1a" stroke-width="0.16" >16</text>
<text x="269.67" y="514.70" font-size="8.6" text-anchor="middle" font-weight="normal" font-style="normal" fill="#1a1a1a" stroke="#1a1a1a" stroke-width="0.16" >90</text>
<text x="269.67" y="657.20" font-size="8.9" text-anchor="middle" font-weight="normal" font-style="normal" fill="#1a1a1a" stroke="#1a1a1a" stroke-width="0.16" >18</text>
<text x="298.30" y="514.70" font-size="8.6" text-anchor="middle" font-weight="normal" font-style="normal" fill="#1a1a1a" stroke="#1a1a1a" stroke-width="0.16" >100</text>
<text x="298.30" y="657.20" font-size="8.9" text-anchor="middle" font-weight="normal" font-style="normal" fill="#1a1a1a" stroke="#1a1a1a" stroke-width="0.16" >20</text>
<text x="155.15" y="499.50" font-size="11.3" text-anchor="middle" font-weight="normal" font-style="normal" fill="#1a1a1a" stroke="#1a1a1a" stroke-width="0.16" >Leakage [%]</text>
<text x="155.15" y="671.30" font-size="11.2" text-anchor="middle" font-weight="normal" font-style="normal" fill="#1a1a1a" stroke="#1a1a1a" stroke-width="0.16" >Synergy factor</text>
<rect x="181.80" y="558.60" width="113.80" height="40.20" fill="#fff" stroke="#1a1a1a" stroke-width="0.9" />
<clipPath id="hc6"><rect x="187.20" y="561.85" width="15.30" height="7.70"/></clipPath>
<rect x="187.20" y="561.85" width="15.30" height="7.70" fill="#ffd932"/>
<path d="M177.85 561.85 l1.5 0 l6.54 7.70 l-1.5 0 z M181.25 561.85 l1.5 0 l6.54 7.70 l-1.5 0 z M184.66 561.85 l1.5 0 l6.54 7.70 l-1.5 0 z M188.06 561.85 l1.5 0 l6.54 7.70 l-1.5 0 z M191.46 561.85 l1.5 0 l6.54 7.70 l-1.5 0 z M194.86 561.85 l1.5 0 l6.54 7.70 l-1.5 0 z M198.26 561.85 l1.5 0 l6.54 7.70 l-1.5 0 z M201.66 561.85 l1.5 0 l6.54 7.70 l-1.5 0 z M205.06 561.85 l1.5 0 l6.54 7.70 l-1.5 0 z" fill="#e3850f" clip-path="url(#hc6)"/>
<rect x="187.20" y="561.85" width="15.30" height="7.70" fill="none" stroke="#3a1c08" stroke-width="0.9"/>
<text x="206.20" y="568.40" font-size="7.6" text-anchor="start" font-weight="normal" font-style="normal" fill="#1a1a1a" stroke="#1a1a1a" stroke-width="0.16" >Mixture</text>
<rect x="187.20" y="571.15" width="15.30" height="7.70" fill="#f2e526" stroke="#3a1c08" stroke-width="0.9" />
<text x="206.20" y="577.70" font-size="7.6" text-anchor="start" font-weight="normal" font-style="normal" fill="#1a1a1a" stroke="#1a1a1a" stroke-width="0.16" >MSI-103, MSI-103 mutant</text>
<rect x="187.20" y="580.15" width="15.30" height="7.70" fill="#e8352c" stroke="#3a1c08" stroke-width="0.9" />
<text x="206.20" y="586.70" font-size="7.6" text-anchor="start" font-weight="normal" font-style="normal" fill="#1a1a1a" stroke="#1a1a1a" stroke-width="0.16" >MAG2-WT</text>
<rect x="187.20" y="589.15" width="15.30" height="7.70" fill="#7c1517" stroke="#3a1c08" stroke-width="0.9" />
<text x="206.20" y="595.70" font-size="7.6" text-anchor="start" font-weight="normal" font-style="normal" fill="#1a1a1a" stroke="#1a1a1a" stroke-width="0.16" >Synergy factor</text>
<line x1="364.10" y1="523.7" x2="364.10" y2="618.1" stroke="#e0262d" stroke-width="1.5" stroke-dasharray="7 3.5" stroke-dashoffset="8.2"/>
<text x="528.10" y="536.80" font-size="7.6" text-anchor="start" font-weight="normal" font-style="normal" fill="#1a1a1a" stroke="#1a1a1a" stroke-width="0.16" >PGLa-WT + MAG2-WT</text>
<text x="405.00" y="561.60" font-size="7.6" text-anchor="start" font-weight="normal" font-style="normal" fill="#1a1a1a" stroke="#1a1a1a" stroke-width="0.16" >PGLa-G11I + MAG2-WT</text>
<text x="369.00" y="585.80" font-size="7.6" text-anchor="start" font-weight="normal" font-style="normal" fill="#1a1a1a" stroke="#1a1a1a" stroke-width="0.16" >PGLa-GS1 + MAG2-WT</text>
<text x="369.00" y="608.70" font-size="7.6" text-anchor="start" font-weight="normal" font-style="normal" fill="#1a1a1a" stroke="#1a1a1a" stroke-width="0.16" >PGLa-GS2 + MAG2-WT</text>
<line x1="508.53" y1="529.50" x2="514.54" y2="529.50" stroke="#151515" stroke-width="0.95" />
<line x1="514.54" y1="527.50" x2="514.54" y2="531.50" stroke="#151515" stroke-width="0.95" />
<line x1="350.37" y1="535.70" x2="353.23" y2="535.70" stroke="#151515" stroke-width="0.95" />
<line x1="353.23" y1="533.70" x2="353.23" y2="537.70" stroke="#151515" stroke-width="0.95" />
<line x1="511.82" y1="541.90" x2="580.46" y2="541.90" stroke="#151515" stroke-width="0.95" />
<line x1="580.46" y1="539.90" x2="580.46" y2="543.90" stroke="#151515" stroke-width="0.95" />
<clipPath id="hc7"><rect x="335.50" y="526.40" width="173.03" height="6.20"/></clipPath>
<rect x="335.50" y="526.40" width="173.03" height="6.20" fill="#ffd932"/>
<path d="M327.43 526.40 l1.5 0 l5.27 6.20 l-1.5 0 z M330.83 526.40 l1.5 0 l5.27 6.20 l-1.5 0 z M334.23 526.40 l1.5 0 l5.27 6.20 l-1.5 0 z M337.63 526.40 l1.5 0 l5.27 6.20 l-1.5 0 z M341.03 526.40 l1.5 0 l5.27 6.20 l-1.5 0 z M344.43 526.40 l1.5 0 l5.27 6.20 l-1.5 0 z M347.83 526.40 l1.5 0 l5.27 6.20 l-1.5 0 z M351.23 526.40 l1.5 0 l5.27 6.20 l-1.5 0 z M354.63 526.40 l1.5 0 l5.27 6.20 l-1.5 0 z M358.03 526.40 l1.5 0 l5.27 6.20 l-1.5 0 z M361.43 526.40 l1.5 0 l5.27 6.20 l-1.5 0 z M364.83 526.40 l1.5 0 l5.27 6.20 l-1.5 0 z M368.23 526.40 l1.5 0 l5.27 6.20 l-1.5 0 z M371.63 526.40 l1.5 0 l5.27 6.20 l-1.5 0 z M375.03 526.40 l1.5 0 l5.27 6.20 l-1.5 0 z M378.43 526.40 l1.5 0 l5.27 6.20 l-1.5 0 z M381.83 526.40 l1.5 0 l5.27 6.20 l-1.5 0 z M385.23 526.40 l1.5 0 l5.27 6.20 l-1.5 0 z M388.63 526.40 l1.5 0 l5.27 6.20 l-1.5 0 z M392.03 526.40 l1.5 0 l5.27 6.20 l-1.5 0 z M395.43 526.40 l1.5 0 l5.27 6.20 l-1.5 0 z M398.83 526.40 l1.5 0 l5.27 6.20 l-1.5 0 z M402.23 526.40 l1.5 0 l5.27 6.20 l-1.5 0 z M405.63 526.40 l1.5 0 l5.27 6.20 l-1.5 0 z M409.03 526.40 l1.5 0 l5.27 6.20 l-1.5 0 z M412.43 526.40 l1.5 0 l5.27 6.20 l-1.5 0 z M415.83 526.40 l1.5 0 l5.27 6.20 l-1.5 0 z M419.23 526.40 l1.5 0 l5.27 6.20 l-1.5 0 z M422.63 526.40 l1.5 0 l5.27 6.20 l-1.5 0 z M426.03 526.40 l1.5 0 l5.27 6.20 l-1.5 0 z M429.43 526.40 l1.5 0 l5.27 6.20 l-1.5 0 z M432.83 526.40 l1.5 0 l5.27 6.20 l-1.5 0 z M436.23 526.40 l1.5 0 l5.27 6.20 l-1.5 0 z M439.63 526.40 l1.5 0 l5.27 6.20 l-1.5 0 z M443.03 526.40 l1.5 0 l5.27 6.20 l-1.5 0 z M446.43 526.40 l1.5 0 l5.27 6.20 l-1.5 0 z M449.83 526.40 l1.5 0 l5.27 6.20 l-1.5 0 z M453.23 526.40 l1.5 0 l5.27 6.20 l-1.5 0 z M456.63 526.40 l1.5 0 l5.27 6.20 l-1.5 0 z M460.03 526.40 l1.5 0 l5.27 6.20 l-1.5 0 z M463.43 526.40 l1.5 0 l5.27 6.20 l-1.5 0 z M466.83 526.40 l1.5 0 l5.27 6.20 l-1.5 0 z M470.23 526.40 l1.5 0 l5.27 6.20 l-1.5 0 z M473.63 526.40 l1.5 0 l5.27 6.20 l-1.5 0 z M477.03 526.40 l1.5 0 l5.27 6.20 l-1.5 0 z M480.43 526.40 l1.5 0 l5.27 6.20 l-1.5 0 z M483.83 526.40 l1.5 0 l5.27 6.20 l-1.5 0 z M487.23 526.40 l1.5 0 l5.27 6.20 l-1.5 0 z M490.63 526.40 l1.5 0 l5.27 6.20 l-1.5 0 z M494.03 526.40 l1.5 0 l5.27 6.20 l-1.5 0 z M497.43 526.40 l1.5 0 l5.27 6.20 l-1.5 0 z M500.83 526.40 l1.5 0 l5.27 6.20 l-1.5 0 z M504.23 526.40 l1.5 0 l5.27 6.20 l-1.5 0 z M507.63 526.40 l1.5 0 l5.27 6.20 l-1.5 0 z M511.03 526.40 l1.5 0 l5.27 6.20 l-1.5 0 z" fill="#e3850f" clip-path="url(#hc7)"/>
<rect x="335.50" y="526.40" width="173.03" height="6.20" fill="none" stroke="#3a1c08" stroke-width="1.05"/>
<rect x="335.50" y="532.60" width="5.58" height="6.20" fill="#f2e526" stroke="#3a1c08" stroke-width="0.8" />
<line x1="341.08" y1="535.70" x2="342.94" y2="535.70" stroke="#151515" stroke-width="0.95" />
<line x1="342.94" y1="534.10" x2="342.94" y2="537.30" stroke="#151515" stroke-width="0.95" />
<rect x="342.94" y="532.60" width="7.44" height="6.20" fill="#e8352c" stroke="#8a1a12" stroke-width="0.8" />
<rect x="335.50" y="538.80" width="176.32" height="6.20" fill="#7c1517" stroke="#3e0809" stroke-width="0.8" />
<line x1="395.27" y1="553.15" x2="425.59" y2="553.15" stroke="#151515" stroke-width="0.95" />
<line x1="425.59" y1="551.15" x2="425.59" y2="555.15" stroke="#151515" stroke-width="0.95" />
<line x1="375.83" y1="559.35" x2="382.40" y2="559.35" stroke="#151515" stroke-width="0.95" />
<line x1="382.40" y1="557.35" x2="382.40" y2="561.35" stroke="#151515" stroke-width="0.95" />
<clipPath id="hc8"><rect x="335.50" y="550.05" width="59.77" height="6.20"/></clipPath>
<rect x="335.50" y="550.05" width="59.77" height="6.20" fill="#ffd932"/>
<path d="M327.43 550.05 l1.5 0 l5.27 6.20 l-1.5 0 z M330.83 550.05 l1.5 0 l5.27 6.20 l-1.5 0 z M334.23 550.05 l1.5 0 l5.27 6.20 l-1.5 0 z M337.63 550.05 l1.5 0 l5.27 6.20 l-1.5 0 z M341.03 550.05 l1.5 0 l5.27 6.20 l-1.5 0 z M344.43 550.05 l1.5 0 l5.27 6.20 l-1.5 0 z M347.83 550.05 l1.5 0 l5.27 6.20 l-1.5 0 z M351.23 550.05 l1.5 0 l5.27 6.20 l-1.5 0 z M354.63 550.05 l1.5 0 l5.27 6.20 l-1.5 0 z M358.03 550.05 l1.5 0 l5.27 6.20 l-1.5 0 z M361.43 550.05 l1.5 0 l5.27 6.20 l-1.5 0 z M364.83 550.05 l1.5 0 l5.27 6.20 l-1.5 0 z M368.23 550.05 l1.5 0 l5.27 6.20 l-1.5 0 z M371.63 550.05 l1.5 0 l5.27 6.20 l-1.5 0 z M375.03 550.05 l1.5 0 l5.27 6.20 l-1.5 0 z M378.43 550.05 l1.5 0 l5.27 6.20 l-1.5 0 z M381.83 550.05 l1.5 0 l5.27 6.20 l-1.5 0 z M385.23 550.05 l1.5 0 l5.27 6.20 l-1.5 0 z M388.63 550.05 l1.5 0 l5.27 6.20 l-1.5 0 z M392.03 550.05 l1.5 0 l5.27 6.20 l-1.5 0 z M395.43 550.05 l1.5 0 l5.27 6.20 l-1.5 0 z" fill="#e3850f" clip-path="url(#hc8)"/>
<rect x="335.50" y="550.05" width="59.77" height="6.20" fill="none" stroke="#3a1c08" stroke-width="1.05"/>
<rect x="335.50" y="556.25" width="31.03" height="6.20" fill="#f2e526" stroke="#3a1c08" stroke-width="0.8" />
<rect x="366.53" y="556.25" width="9.29" height="6.20" fill="#e8352c" stroke="#8a1a12" stroke-width="0.8" />
<rect x="335.50" y="562.45" width="21.16" height="6.20" fill="#7c1517" stroke="#3e0809" stroke-width="0.8" />
<line x1="346.65" y1="576.80" x2="347.51" y2="576.80" stroke="#151515" stroke-width="0.95" />
<line x1="347.51" y1="574.80" x2="347.51" y2="578.80" stroke="#151515" stroke-width="0.95" />
<line x1="349.51" y1="583.00" x2="352.09" y2="583.00" stroke="#151515" stroke-width="0.95" />
<line x1="352.09" y1="581.00" x2="352.09" y2="585.00" stroke="#151515" stroke-width="0.95" />
<clipPath id="hc9"><rect x="335.50" y="573.70" width="11.15" height="6.20"/></clipPath>
<rect x="335.50" y="573.70" width="11.15" height="6.20" fill="#ffd932"/>
<path d="M327.43 573.70 l1.5 0 l5.27 6.20 l-1.5 0 z M330.83 573.70 l1.5 0 l5.27 6.20 l-1.5 0 z M334.23 573.70 l1.5 0 l5.27 6.20 l-1.5 0 z M337.63 573.70 l1.5 0 l5.27 6.20 l-1.5 0 z M341.03 573.70 l1.5 0 l5.27 6.20 l-1.5 0 z M344.43 573.70 l1.5 0 l5.27 6.20 l-1.5 0 z M347.83 573.70 l1.5 0 l5.27 6.20 l-1.5 0 z" fill="#e3850f" clip-path="url(#hc9)"/>
<rect x="335.50" y="573.70" width="11.15" height="6.20" fill="none" stroke="#3a1c08" stroke-width="1.05"/>
<rect x="335.50" y="579.90" width="5.15" height="6.20" fill="#f2e526" stroke="#3a1c08" stroke-width="0.8" />
<line x1="340.65" y1="583.00" x2="342.65" y2="583.00" stroke="#151515" stroke-width="0.95" />
<line x1="342.65" y1="581.40" x2="342.65" y2="584.60" stroke="#151515" stroke-width="0.95" />
<rect x="342.65" y="579.90" width="6.86" height="6.20" fill="#e8352c" stroke="#8a1a12" stroke-width="0.8" />
<rect x="335.50" y="586.10" width="10.73" height="6.20" fill="#7c1517" stroke="#3e0809" stroke-width="0.8" />
<line x1="346.23" y1="600.45" x2="349.51" y2="600.45" stroke="#151515" stroke-width="0.95" />
<line x1="349.51" y1="598.45" x2="349.51" y2="602.45" stroke="#151515" stroke-width="0.95" />
<line x1="349.80" y1="606.65" x2="352.37" y2="606.65" stroke="#151515" stroke-width="0.95" />
<line x1="352.37" y1="604.65" x2="352.37" y2="608.65" stroke="#151515" stroke-width="0.95" />
<line x1="345.37" y1="612.85" x2="347.80" y2="612.85" stroke="#151515" stroke-width="0.95" />
<line x1="347.80" y1="610.85" x2="347.80" y2="614.85" stroke="#151515" stroke-width="0.95" />
<clipPath id="hc10"><rect x="335.50" y="597.35" width="10.72" height="6.20"/></clipPath>
<rect x="335.50" y="597.35" width="10.72" height="6.20" fill="#ffd932"/>
<path d="M327.43 597.35 l1.5 0 l5.27 6.20 l-1.5 0 z M330.83 597.35 l1.5 0 l5.27 6.20 l-1.5 0 z M334.23 597.35 l1.5 0 l5.27 6.20 l-1.5 0 z M337.63 597.35 l1.5 0 l5.27 6.20 l-1.5 0 z M341.03 597.35 l1.5 0 l5.27 6.20 l-1.5 0 z M344.43 597.35 l1.5 0 l5.27 6.20 l-1.5 0 z M347.83 597.35 l1.5 0 l5.27 6.20 l-1.5 0 z" fill="#e3850f" clip-path="url(#hc10)"/>
<rect x="335.50" y="597.35" width="10.72" height="6.20" fill="none" stroke="#3a1c08" stroke-width="1.05"/>
<rect x="335.50" y="603.55" width="5.15" height="6.20" fill="#f2e526" stroke="#3a1c08" stroke-width="0.8" />
<line x1="340.65" y1="606.65" x2="342.65" y2="606.65" stroke="#151515" stroke-width="0.95" />
<line x1="342.65" y1="605.05" x2="342.65" y2="608.25" stroke="#151515" stroke-width="0.95" />
<rect x="342.65" y="603.55" width="7.15" height="6.20" fill="#e8352c" stroke="#8a1a12" stroke-width="0.8" />
<rect x="335.50" y="609.75" width="9.87" height="6.20" fill="#7c1517" stroke="#3e0809" stroke-width="0.8" />
<line x1="335.50" y1="523.70" x2="335.50" y2="618.10" stroke="#222" stroke-width="0.9" />
<line x1="330.80" y1="523.70" x2="621.50" y2="523.70" stroke="#222" stroke-width="0.9" />
<line x1="330.80" y1="618.10" x2="621.50" y2="618.10" stroke="#222" stroke-width="0.9" />
<line x1="621.50" y1="523.30" x2="621.50" y2="618.50" stroke="#3a3a3a" stroke-width="0.9" />
<line x1="330.80" y1="523.70" x2="335.50" y2="523.70" stroke="#1a1a1a" stroke-width="1.0" />
<line x1="330.80" y1="547.30" x2="335.50" y2="547.30" stroke="#1a1a1a" stroke-width="1.0" />
<line x1="330.80" y1="570.90" x2="335.50" y2="570.90" stroke="#1a1a1a" stroke-width="1.0" />
<line x1="330.80" y1="594.50" x2="335.50" y2="594.50" stroke="#1a1a1a" stroke-width="1.0" />
<line x1="330.80" y1="618.10" x2="335.50" y2="618.10" stroke="#1a1a1a" stroke-width="1.0" />
<line x1="335.50" y1="523.70" x2="335.50" y2="519.70" stroke="#333" stroke-width="0.9" />
<line x1="335.50" y1="618.10" x2="335.50" y2="622.10" stroke="#333" stroke-width="0.9" />
<line x1="349.80" y1="523.70" x2="349.80" y2="521.60" stroke="#333" stroke-width="0.9" />
<line x1="349.80" y1="618.10" x2="349.80" y2="620.20" stroke="#333" stroke-width="0.9" />
<line x1="364.10" y1="523.70" x2="364.10" y2="519.70" stroke="#333" stroke-width="0.9" />
<line x1="364.10" y1="618.10" x2="364.10" y2="622.10" stroke="#333" stroke-width="0.9" />
<line x1="378.40" y1="523.70" x2="378.40" y2="521.60" stroke="#333" stroke-width="0.9" />
<line x1="378.40" y1="618.10" x2="378.40" y2="620.20" stroke="#333" stroke-width="0.9" />
<line x1="392.70" y1="523.70" x2="392.70" y2="519.70" stroke="#333" stroke-width="0.9" />
<line x1="392.70" y1="618.10" x2="392.70" y2="622.10" stroke="#333" stroke-width="0.9" />
<line x1="407.00" y1="523.70" x2="407.00" y2="521.60" stroke="#333" stroke-width="0.9" />
<line x1="407.00" y1="618.10" x2="407.00" y2="620.20" stroke="#333" stroke-width="0.9" />
<line x1="421.30" y1="523.70" x2="421.30" y2="519.70" stroke="#333" stroke-width="0.9" />
<line x1="421.30" y1="618.10" x2="421.30" y2="622.10" stroke="#333" stroke-width="0.9" />
<line x1="435.60" y1="523.70" x2="435.60" y2="521.60" stroke="#333" stroke-width="0.9" />
<line x1="435.60" y1="618.10" x2="435.60" y2="620.20" stroke="#333" stroke-width="0.9" />
<line x1="449.90" y1="523.70" x2="449.90" y2="519.70" stroke="#333" stroke-width="0.9" />
<line x1="449.90" y1="618.10" x2="449.90" y2="622.10" stroke="#333" stroke-width="0.9" />
<line x1="464.20" y1="523.70" x2="464.20" y2="521.60" stroke="#333" stroke-width="0.9" />
<line x1="464.20" y1="618.10" x2="464.20" y2="620.20" stroke="#333" stroke-width="0.9" />
<line x1="478.50" y1="523.70" x2="478.50" y2="519.70" stroke="#333" stroke-width="0.9" />
<line x1="478.50" y1="618.10" x2="478.50" y2="622.10" stroke="#333" stroke-width="0.9" />
<line x1="492.80" y1="523.70" x2="492.80" y2="521.60" stroke="#333" stroke-width="0.9" />
<line x1="492.80" y1="618.10" x2="492.80" y2="620.20" stroke="#333" stroke-width="0.9" />
<line x1="507.10" y1="523.70" x2="507.10" y2="519.70" stroke="#333" stroke-width="0.9" />
<line x1="507.10" y1="618.10" x2="507.10" y2="622.10" stroke="#333" stroke-width="0.9" />
<line x1="521.40" y1="523.70" x2="521.40" y2="521.60" stroke="#333" stroke-width="0.9" />
<line x1="521.40" y1="618.10" x2="521.40" y2="620.20" stroke="#333" stroke-width="0.9" />
<line x1="535.70" y1="523.70" x2="535.70" y2="519.70" stroke="#333" stroke-width="0.9" />
<line x1="535.70" y1="618.10" x2="535.70" y2="622.10" stroke="#333" stroke-width="0.9" />
<line x1="550.00" y1="523.70" x2="550.00" y2="521.60" stroke="#333" stroke-width="0.9" />
<line x1="550.00" y1="618.10" x2="550.00" y2="620.20" stroke="#333" stroke-width="0.9" />
<line x1="564.30" y1="523.70" x2="564.30" y2="519.70" stroke="#333" stroke-width="0.9" />
<line x1="564.30" y1="618.10" x2="564.30" y2="622.10" stroke="#333" stroke-width="0.9" />
<line x1="578.60" y1="523.70" x2="578.60" y2="521.60" stroke="#333" stroke-width="0.9" />
<line x1="578.60" y1="618.10" x2="578.60" y2="620.20" stroke="#333" stroke-width="0.9" />
<line x1="592.90" y1="523.70" x2="592.90" y2="519.70" stroke="#333" stroke-width="0.9" />
<line x1="592.90" y1="618.10" x2="592.90" y2="622.10" stroke="#333" stroke-width="0.9" />
<line x1="607.20" y1="523.70" x2="607.20" y2="521.60" stroke="#333" stroke-width="0.9" />
<line x1="607.20" y1="618.10" x2="607.20" y2="620.20" stroke="#333" stroke-width="0.9" />
<line x1="621.50" y1="523.70" x2="621.50" y2="519.70" stroke="#333" stroke-width="0.9" />
<line x1="621.50" y1="618.10" x2="621.50" y2="622.10" stroke="#333" stroke-width="0.9" />
<text x="335.50" y="513.90" font-size="8.6" text-anchor="middle" font-weight="normal" font-style="normal" fill="#1a1a1a" stroke="#1a1a1a" stroke-width="0.16" >0</text>
<text x="335.50" y="633.30" font-size="8.9" text-anchor="middle" font-weight="normal" font-style="normal" fill="#1a1a1a" stroke="#1a1a1a" stroke-width="0.16" >0</text>
<text x="364.10" y="513.90" font-size="8.6" text-anchor="middle" font-weight="normal" font-style="normal" fill="#1a1a1a" stroke="#1a1a1a" stroke-width="0.16" >10</text>
<text x="364.10" y="633.30" font-size="8.9" text-anchor="middle" font-weight="normal" font-style="normal" fill="#1a1a1a" stroke="#1a1a1a" stroke-width="0.16" >2</text>
<text x="392.70" y="513.90" font-size="8.6" text-anchor="middle" font-weight="normal" font-style="normal" fill="#1a1a1a" stroke="#1a1a1a" stroke-width="0.16" >20</text>
<text x="392.70" y="633.30" font-size="8.9" text-anchor="middle" font-weight="normal" font-style="normal" fill="#1a1a1a" stroke="#1a1a1a" stroke-width="0.16" >4</text>
<text x="421.30" y="513.90" font-size="8.6" text-anchor="middle" font-weight="normal" font-style="normal" fill="#1a1a1a" stroke="#1a1a1a" stroke-width="0.16" >30</text>
<text x="421.30" y="633.30" font-size="8.9" text-anchor="middle" font-weight="normal" font-style="normal" fill="#1a1a1a" stroke="#1a1a1a" stroke-width="0.16" >6</text>
<text x="449.90" y="513.90" font-size="8.6" text-anchor="middle" font-weight="normal" font-style="normal" fill="#1a1a1a" stroke="#1a1a1a" stroke-width="0.16" >40</text>
<text x="449.90" y="633.30" font-size="8.9" text-anchor="middle" font-weight="normal" font-style="normal" fill="#1a1a1a" stroke="#1a1a1a" stroke-width="0.16" >8</text>
<text x="478.50" y="513.90" font-size="8.6" text-anchor="middle" font-weight="normal" font-style="normal" fill="#1a1a1a" stroke="#1a1a1a" stroke-width="0.16" >50</text>
<text x="478.50" y="633.30" font-size="8.9" text-anchor="middle" font-weight="normal" font-style="normal" fill="#1a1a1a" stroke="#1a1a1a" stroke-width="0.16" >10</text>
<text x="507.10" y="513.90" font-size="8.6" text-anchor="middle" font-weight="normal" font-style="normal" fill="#1a1a1a" stroke="#1a1a1a" stroke-width="0.16" >60</text>
<text x="507.10" y="633.30" font-size="8.9" text-anchor="middle" font-weight="normal" font-style="normal" fill="#1a1a1a" stroke="#1a1a1a" stroke-width="0.16" >12</text>
<text x="535.70" y="513.90" font-size="8.6" text-anchor="middle" font-weight="normal" font-style="normal" fill="#1a1a1a" stroke="#1a1a1a" stroke-width="0.16" >70</text>
<text x="535.70" y="633.30" font-size="8.9" text-anchor="middle" font-weight="normal" font-style="normal" fill="#1a1a1a" stroke="#1a1a1a" stroke-width="0.16" >14</text>
<text x="564.30" y="513.90" font-size="8.6" text-anchor="middle" font-weight="normal" font-style="normal" fill="#1a1a1a" stroke="#1a1a1a" stroke-width="0.16" >80</text>
<text x="564.30" y="633.30" font-size="8.9" text-anchor="middle" font-weight="normal" font-style="normal" fill="#1a1a1a" stroke="#1a1a1a" stroke-width="0.16" >16</text>
<text x="592.90" y="513.90" font-size="8.6" text-anchor="middle" font-weight="normal" font-style="normal" fill="#1a1a1a" stroke="#1a1a1a" stroke-width="0.16" >90</text>
<text x="592.90" y="633.30" font-size="8.9" text-anchor="middle" font-weight="normal" font-style="normal" fill="#1a1a1a" stroke="#1a1a1a" stroke-width="0.16" >18</text>
<text x="621.50" y="513.90" font-size="8.6" text-anchor="middle" font-weight="normal" font-style="normal" fill="#1a1a1a" stroke="#1a1a1a" stroke-width="0.16" >100</text>
<text x="621.50" y="633.30" font-size="8.9" text-anchor="middle" font-weight="normal" font-style="normal" fill="#1a1a1a" stroke="#1a1a1a" stroke-width="0.16" >20</text>
<text x="478.50" y="498.70" font-size="11.3" text-anchor="middle" font-weight="normal" font-style="normal" fill="#1a1a1a" stroke="#1a1a1a" stroke-width="0.16" >Leakage [%]</text>
<text x="478.50" y="647.40" font-size="11.2" text-anchor="middle" font-weight="normal" font-style="normal" fill="#1a1a1a" stroke="#1a1a1a" stroke-width="0.16" >Synergy factor</text>
<line x1="379.30" y1="557.50" x2="379.30" y2="561.50" stroke="#151515" stroke-width="0.95" />
<rect x="502.30" y="570.30" width="112.80" height="37.80" fill="#fff" stroke="#1a1a1a" stroke-width="0.9" />
<clipPath id="hc11"><rect x="509.70" y="572.95" width="15.30" height="7.70"/></clipPath>
<rect x="509.70" y="572.95" width="15.30" height="7.70" fill="#ffd932"/>
<path d="M500.36 572.95 l1.5 0 l6.54 7.70 l-1.5 0 z M503.75 572.95 l1.5 0 l6.54 7.70 l-1.5 0 z M507.15 572.95 l1.5 0 l6.54 7.70 l-1.5 0 z M510.55 572.95 l1.5 0 l6.54 7.70 l-1.5 0 z M513.95 572.95 l1.5 0 l6.54 7.70 l-1.5 0 z M517.35 572.95 l1.5 0 l6.54 7.70 l-1.5 0 z M520.75 572.95 l1.5 0 l6.54 7.70 l-1.5 0 z M524.15 572.95 l1.5 0 l6.54 7.70 l-1.5 0 z M527.55 572.95 l1.5 0 l6.54 7.70 l-1.5 0 z" fill="#e3850f" clip-path="url(#hc11)"/>
<rect x="509.70" y="572.95" width="15.30" height="7.70" fill="none" stroke="#3a1c08" stroke-width="0.9"/>
<text x="528.90" y="579.50" font-size="7.6" text-anchor="start" font-weight="normal" font-style="normal" fill="#1a1a1a" stroke="#1a1a1a" stroke-width="0.16" >Mixture</text>
<rect x="509.70" y="581.55" width="15.30" height="7.70" fill="#f2e526" stroke="#3a1c08" stroke-width="0.9" />
<text x="528.90" y="588.10" font-size="7.6" text-anchor="start" font-weight="normal" font-style="normal" fill="#1a1a1a" stroke="#1a1a1a" stroke-width="0.16" >PGLa-WT, PGLa mutant</text>
<rect x="509.70" y="590.15" width="15.30" height="7.70" fill="#e8352c" stroke="#3a1c08" stroke-width="0.9" />
<text x="528.90" y="596.70" font-size="7.6" text-anchor="start" font-weight="normal" font-style="normal" fill="#1a1a1a" stroke="#1a1a1a" stroke-width="0.16" >MAG2-WT</text>
<rect x="509.70" y="598.85" width="15.30" height="7.70" fill="#7c1517" stroke="#3a1c08" stroke-width="0.9" />
<text x="528.90" y="605.40" font-size="7.6" text-anchor="start" font-weight="normal" font-style="normal" fill="#1a1a1a" stroke="#1a1a1a" stroke-width="0.16" >Synergy factor</text>
</svg>
</body></html>
